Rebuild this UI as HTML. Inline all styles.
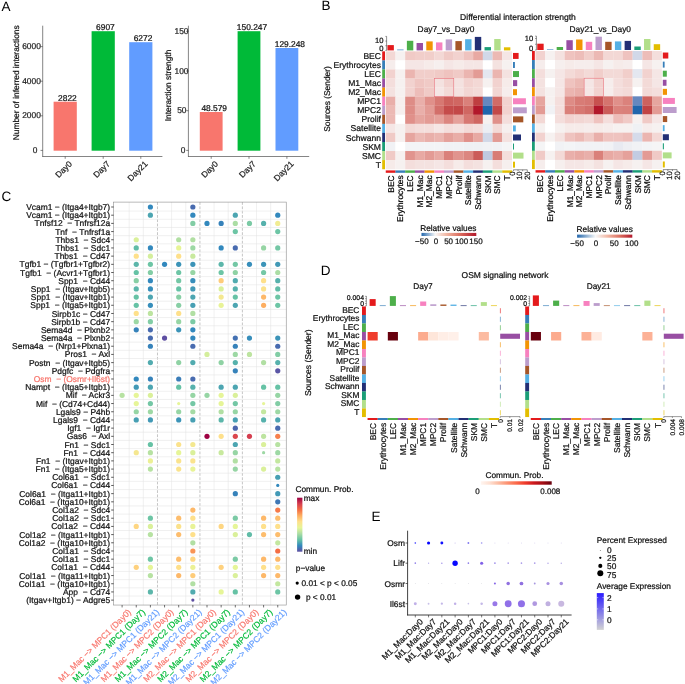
<!DOCTYPE html>
<html lang="en"><head><meta charset="utf-8"><title>Figure</title>
<style>html,body{margin:0;padding:0;background:#fff;}svg{display:block;}text{font-family:'Liberation Sans', Arial, Helvetica, sans-serif;white-space:pre;text-rendering:geometricPrecision;}</style>
</head><body>
<svg width="685" height="684" viewBox="0 0 685 684" xml:space="preserve">
<rect x="0" y="0" width="685" height="684" fill="#FFFFFF"/>
<text x="1.5" y="11.17" font-size="13.5" fill="#000">A</text>
<text x="321.5" y="10.17" font-size="13.5" fill="#000">B</text>
<text x="1.5" y="200.77" font-size="13.5" fill="#000">C</text>
<text x="320.8" y="275.17" font-size="13.5" fill="#000">D</text>
<text x="371.5" y="520.57" font-size="13.5" fill="#000">E</text>
<rect x="53.60" y="101.70" width="23.20" height="49.00" fill="#F8766D" />
<text x="67.40" y="100.51" font-size="8.4" text-anchor="middle" fill="#111" stroke="#111" stroke-width="0.22" >2822</text>
<rect x="91.60" y="31.20" width="23.20" height="119.50" fill="#00BA38" />
<text x="105.40" y="30.01" font-size="8.4" text-anchor="middle" fill="#111" stroke="#111" stroke-width="0.22" >6907</text>
<rect x="129.20" y="42.20" width="23.20" height="108.50" fill="#619CFF" />
<text x="143.00" y="41.01" font-size="8.4" text-anchor="middle" fill="#111" stroke="#111" stroke-width="0.22" >6272</text>
<line x1="42.70" y1="25.70" x2="42.70" y2="156.80" stroke="#333" stroke-width="0.6" />
<line x1="42.40" y1="156.50" x2="162.40" y2="156.50" stroke="#333" stroke-width="0.6" />
<line x1="40.50" y1="150.40" x2="42.70" y2="150.40" stroke="#333" stroke-width="0.6" />
<text x="35.10" y="153.01" font-size="8.4" text-anchor="middle" fill="#222" stroke="#222" stroke-width="0.22" >0</text>
<line x1="40.50" y1="115.80" x2="42.70" y2="115.80" stroke="#333" stroke-width="0.6" />
<text x="31.50" y="118.41" font-size="8.4" text-anchor="middle" fill="#222" stroke="#222" stroke-width="0.22" >2000</text>
<line x1="40.50" y1="81.20" x2="42.70" y2="81.20" stroke="#333" stroke-width="0.6" />
<text x="31.50" y="83.81" font-size="8.4" text-anchor="middle" fill="#222" stroke="#222" stroke-width="0.22" >4000</text>
<line x1="40.50" y1="46.60" x2="42.70" y2="46.60" stroke="#333" stroke-width="0.6" />
<text x="31.50" y="49.21" font-size="8.4" text-anchor="middle" fill="#222" stroke="#222" stroke-width="0.22" >6000</text>
<line x1="65.20" y1="156.50" x2="65.20" y2="158.80" stroke="#333" stroke-width="0.6" />
<text transform="translate(68.20,160.10) rotate(-45)" x="0" y="6.22" font-size="8.4" text-anchor="end" fill="#222" stroke="#222" stroke-width="0.22">Day0</text>
<line x1="103.20" y1="156.50" x2="103.20" y2="158.80" stroke="#333" stroke-width="0.6" />
<text transform="translate(106.20,160.10) rotate(-45)" x="0" y="6.22" font-size="8.4" text-anchor="end" fill="#222" stroke="#222" stroke-width="0.22">Day7</text>
<line x1="140.80" y1="156.50" x2="140.80" y2="158.80" stroke="#333" stroke-width="0.6" />
<text transform="translate(143.80,160.10) rotate(-45)" x="0" y="6.22" font-size="8.4" text-anchor="end" fill="#222" stroke="#222" stroke-width="0.22">Day21</text>
<text transform="translate(16.30,82.80) rotate(-90)" x="0" y="3.01" font-size="8.4" text-anchor="middle" fill="#111" stroke="#111" stroke-width="0.22" >Number of inferred interactions</text>
<rect x="199.80" y="112.00" width="22.80" height="38.70" fill="#F8766D" />
<text x="214.20" y="110.81" font-size="8.4" text-anchor="middle" fill="#111" stroke="#111" stroke-width="0.22" >48.579</text>
<rect x="237.60" y="31.20" width="22.80" height="119.50" fill="#00BA38" />
<text x="252.00" y="30.01" font-size="8.4" text-anchor="middle" fill="#111" stroke="#111" stroke-width="0.22" >150.247</text>
<rect x="275.50" y="48.00" width="22.80" height="102.70" fill="#619CFF" />
<text x="289.90" y="46.81" font-size="8.4" text-anchor="middle" fill="#111" stroke="#111" stroke-width="0.22" >129.248</text>
<line x1="188.40" y1="25.70" x2="188.40" y2="156.80" stroke="#333" stroke-width="0.6" />
<line x1="188.10" y1="156.50" x2="309.20" y2="156.50" stroke="#333" stroke-width="0.6" />
<line x1="186.20" y1="150.40" x2="188.40" y2="150.40" stroke="#333" stroke-width="0.6" />
<text x="183.00" y="153.01" font-size="8.4" text-anchor="middle" fill="#222" stroke="#222" stroke-width="0.22" >0</text>
<line x1="186.20" y1="110.70" x2="188.40" y2="110.70" stroke="#333" stroke-width="0.6" />
<text x="181.80" y="113.31" font-size="8.4" text-anchor="middle" fill="#222" stroke="#222" stroke-width="0.22" >50</text>
<line x1="186.20" y1="71.00" x2="188.40" y2="71.00" stroke="#333" stroke-width="0.6" />
<text x="181.50" y="73.61" font-size="8.4" text-anchor="middle" fill="#222" stroke="#222" stroke-width="0.22" >100</text>
<line x1="186.20" y1="31.30" x2="188.40" y2="31.30" stroke="#333" stroke-width="0.6" />
<text x="181.50" y="33.91" font-size="8.4" text-anchor="middle" fill="#222" stroke="#222" stroke-width="0.22" >150</text>
<line x1="211.20" y1="156.50" x2="211.20" y2="158.80" stroke="#333" stroke-width="0.6" />
<text transform="translate(214.20,160.10) rotate(-45)" x="0" y="6.22" font-size="8.4" text-anchor="end" fill="#222" stroke="#222" stroke-width="0.22">Day0</text>
<line x1="249.00" y1="156.50" x2="249.00" y2="158.80" stroke="#333" stroke-width="0.6" />
<text transform="translate(252.00,160.10) rotate(-45)" x="0" y="6.22" font-size="8.4" text-anchor="end" fill="#222" stroke="#222" stroke-width="0.22">Day7</text>
<line x1="286.90" y1="156.50" x2="286.90" y2="158.80" stroke="#333" stroke-width="0.6" />
<text transform="translate(289.90,160.10) rotate(-45)" x="0" y="6.22" font-size="8.4" text-anchor="end" fill="#222" stroke="#222" stroke-width="0.22">Day21</text>
<text transform="translate(167.80,85.50) rotate(-90)" x="0" y="3.01" font-size="8.4" text-anchor="middle" fill="#111" stroke="#111" stroke-width="0.22" >Interaction strength</text>
<rect x="385.75" y="51.35" width="9.81" height="9.16" fill="#F3D8D5" />
<rect x="395.46" y="51.35" width="9.81" height="9.16" fill="#F6F1F0" />
<rect x="405.17" y="51.35" width="9.81" height="9.16" fill="#F0CAC6" />
<rect x="414.87" y="51.35" width="9.81" height="9.16" fill="#F1CECA" />
<rect x="424.58" y="51.35" width="9.81" height="9.16" fill="#F1CECA" />
<rect x="434.29" y="51.35" width="9.81" height="9.16" fill="#F3D8D5" />
<rect x="444.00" y="51.35" width="9.81" height="9.16" fill="#F0CAC6" />
<rect x="453.70" y="51.35" width="9.81" height="9.16" fill="#F2D2CF" />
<rect x="463.41" y="51.35" width="9.81" height="9.16" fill="#EFC3BF" />
<rect x="473.12" y="51.35" width="9.81" height="9.16" fill="#E8A9A3" />
<rect x="482.83" y="51.35" width="9.81" height="9.16" fill="#D1D8E8" />
<rect x="492.53" y="51.35" width="9.81" height="9.16" fill="#ECB9B4" />
<rect x="502.24" y="51.35" width="9.81" height="9.16" fill="#F5E6E5" />
<rect x="385.75" y="60.41" width="9.81" height="9.16" fill="#F6EDEC" />
<rect x="395.46" y="60.41" width="9.81" height="9.16" fill="#FFFFFF" />
<rect x="405.17" y="60.41" width="9.81" height="9.16" fill="#F5E6E5" />
<rect x="414.87" y="60.41" width="9.81" height="9.16" fill="#F5E6E5" />
<rect x="424.58" y="60.41" width="9.81" height="9.16" fill="#F6EBE9" />
<rect x="434.29" y="60.41" width="9.81" height="9.16" fill="#F6EFEE" />
<rect x="444.00" y="60.41" width="9.81" height="9.16" fill="#F5E6E5" />
<rect x="453.70" y="60.41" width="9.81" height="9.16" fill="#F6EBE9" />
<rect x="463.41" y="60.41" width="9.81" height="9.16" fill="#F5E6E5" />
<rect x="473.12" y="60.41" width="9.81" height="9.16" fill="#F5E6E5" />
<rect x="482.83" y="60.41" width="9.81" height="9.16" fill="#FFFFFF" />
<rect x="492.53" y="60.41" width="9.81" height="9.16" fill="#F4E2E0" />
<rect x="502.24" y="60.41" width="9.81" height="9.16" fill="#F6F1F0" />
<rect x="385.75" y="69.47" width="9.81" height="9.16" fill="#F2D2CF" />
<rect x="395.46" y="69.47" width="9.81" height="9.16" fill="#F6F1F0" />
<rect x="405.17" y="69.47" width="9.81" height="9.16" fill="#EBB5B0" />
<rect x="414.87" y="69.47" width="9.81" height="9.16" fill="#F1CECA" />
<rect x="424.58" y="69.47" width="9.81" height="9.16" fill="#F1CECA" />
<rect x="434.29" y="69.47" width="9.81" height="9.16" fill="#F0CAC6" />
<rect x="444.00" y="69.47" width="9.81" height="9.16" fill="#EFC3BF" />
<rect x="453.70" y="69.47" width="9.81" height="9.16" fill="#F0CAC6" />
<rect x="463.41" y="69.47" width="9.81" height="9.16" fill="#EBB5B0" />
<rect x="473.12" y="69.47" width="9.81" height="9.16" fill="#E39B95" />
<rect x="482.83" y="69.47" width="9.81" height="9.16" fill="#E4E7F0" />
<rect x="492.53" y="69.47" width="9.81" height="9.16" fill="#EBB5B0" />
<rect x="502.24" y="69.47" width="9.81" height="9.16" fill="#F4E2E0" />
<rect x="385.75" y="78.53" width="9.81" height="9.16" fill="#F4DEDC" />
<rect x="395.46" y="78.53" width="9.81" height="9.16" fill="#F6F1F0" />
<rect x="405.17" y="78.53" width="9.81" height="9.16" fill="#F2D2CF" />
<rect x="414.87" y="78.53" width="9.81" height="9.16" fill="#EFC5C1" />
<rect x="424.58" y="78.53" width="9.81" height="9.16" fill="#F0CAC6" />
<rect x="434.29" y="78.53" width="9.81" height="9.16" fill="#F4E2E0" />
<rect x="444.00" y="78.53" width="9.81" height="9.16" fill="#F2D2CF" />
<rect x="453.70" y="78.53" width="9.81" height="9.16" fill="#F4E2E0" />
<rect x="463.41" y="78.53" width="9.81" height="9.16" fill="#F2D2CF" />
<rect x="473.12" y="78.53" width="9.81" height="9.16" fill="#F3D8D5" />
<rect x="482.83" y="78.53" width="9.81" height="9.16" fill="#F6F1F0" />
<rect x="492.53" y="78.53" width="9.81" height="9.16" fill="#F2D2CF" />
<rect x="502.24" y="78.53" width="9.81" height="9.16" fill="#F6EBE9" />
<rect x="385.75" y="87.60" width="9.81" height="9.16" fill="#F4E2E0" />
<rect x="395.46" y="87.60" width="9.81" height="9.16" fill="#F6F1F0" />
<rect x="405.17" y="87.60" width="9.81" height="9.16" fill="#F2D2CF" />
<rect x="414.87" y="87.60" width="9.81" height="9.16" fill="#EDBDB9" />
<rect x="424.58" y="87.60" width="9.81" height="9.16" fill="#F0CAC6" />
<rect x="434.29" y="87.60" width="9.81" height="9.16" fill="#F5E6E5" />
<rect x="444.00" y="87.60" width="9.81" height="9.16" fill="#F3DAD7" />
<rect x="453.70" y="87.60" width="9.81" height="9.16" fill="#F4E2E0" />
<rect x="463.41" y="87.60" width="9.81" height="9.16" fill="#F2D6D3" />
<rect x="473.12" y="87.60" width="9.81" height="9.16" fill="#F3DAD7" />
<rect x="482.83" y="87.60" width="9.81" height="9.16" fill="#FFFFFF" />
<rect x="492.53" y="87.60" width="9.81" height="9.16" fill="#F2D6D3" />
<rect x="502.24" y="87.60" width="9.81" height="9.16" fill="#F6EDEC" />
<rect x="385.75" y="96.66" width="9.81" height="9.16" fill="#E9AFAA" />
<rect x="395.46" y="96.66" width="9.81" height="9.16" fill="#F6EFEE" />
<rect x="405.17" y="96.66" width="9.81" height="9.16" fill="#DE8C86" />
<rect x="414.87" y="96.66" width="9.81" height="9.16" fill="#E9AFAA" />
<rect x="424.58" y="96.66" width="9.81" height="9.16" fill="#E0908A" />
<rect x="434.29" y="96.66" width="9.81" height="9.16" fill="#D77872" />
<rect x="444.00" y="96.66" width="9.81" height="9.16" fill="#CE625E" />
<rect x="453.70" y="96.66" width="9.81" height="9.16" fill="#D06762" />
<rect x="463.41" y="96.66" width="9.81" height="9.16" fill="#DA807A" />
<rect x="473.12" y="96.66" width="9.81" height="9.16" fill="#BF3E40" />
<rect x="482.83" y="96.66" width="9.81" height="9.16" fill="#6688BF" />
<rect x="492.53" y="96.66" width="9.81" height="9.16" fill="#D26B66" />
<rect x="502.24" y="96.66" width="9.81" height="9.16" fill="#F2D2CF" />
<rect x="385.75" y="105.72" width="9.81" height="9.16" fill="#ECB9B4" />
<rect x="395.46" y="105.72" width="9.81" height="9.16" fill="#F6EFEE" />
<rect x="405.17" y="105.72" width="9.81" height="9.16" fill="#DE8C86" />
<rect x="414.87" y="105.72" width="9.81" height="9.16" fill="#E9AFAA" />
<rect x="424.58" y="105.72" width="9.81" height="9.16" fill="#E39B95" />
<rect x="434.29" y="105.72" width="9.81" height="9.16" fill="#D36F6A" />
<rect x="444.00" y="105.72" width="9.81" height="9.16" fill="#C54C4B" />
<rect x="453.70" y="105.72" width="9.81" height="9.16" fill="#C34848" />
<rect x="463.41" y="105.72" width="9.81" height="9.16" fill="#D06762" />
<rect x="473.12" y="105.72" width="9.81" height="9.16" fill="#B2182B" />
<rect x="482.83" y="105.72" width="9.81" height="9.16" fill="#2166AC" />
<rect x="492.53" y="105.72" width="9.81" height="9.16" fill="#C34848" />
<rect x="502.24" y="105.72" width="9.81" height="9.16" fill="#F2D2CF" />
<rect x="385.75" y="114.78" width="9.81" height="9.16" fill="#ECB9B4" />
<rect x="395.46" y="114.78" width="9.81" height="9.16" fill="#FFFFFF" />
<rect x="405.17" y="114.78" width="9.81" height="9.16" fill="#E0908A" />
<rect x="414.87" y="114.78" width="9.81" height="9.16" fill="#E6A59F" />
<rect x="424.58" y="114.78" width="9.81" height="9.16" fill="#E39B95" />
<rect x="434.29" y="114.78" width="9.81" height="9.16" fill="#E5A19B" />
<rect x="444.00" y="114.78" width="9.81" height="9.16" fill="#DC8680" />
<rect x="453.70" y="114.78" width="9.81" height="9.16" fill="#E5A19B" />
<rect x="463.41" y="114.78" width="9.81" height="9.16" fill="#D77872" />
<rect x="473.12" y="114.78" width="9.81" height="9.16" fill="#D06762" />
<rect x="482.83" y="114.78" width="9.81" height="9.16" fill="#F6F1F0" />
<rect x="492.53" y="114.78" width="9.81" height="9.16" fill="#E0908A" />
<rect x="502.24" y="114.78" width="9.81" height="9.16" fill="#F4DEDC" />
<rect x="385.75" y="123.84" width="9.81" height="9.16" fill="#F5E6E5" />
<rect x="395.46" y="123.84" width="9.81" height="9.16" fill="#F6F1F0" />
<rect x="405.17" y="123.84" width="9.81" height="9.16" fill="#F3DAD7" />
<rect x="414.87" y="123.84" width="9.81" height="9.16" fill="#F4DEDC" />
<rect x="424.58" y="123.84" width="9.81" height="9.16" fill="#F4DEDC" />
<rect x="434.29" y="123.84" width="9.81" height="9.16" fill="#F5E6E5" />
<rect x="444.00" y="123.84" width="9.81" height="9.16" fill="#F4DEDC" />
<rect x="453.70" y="123.84" width="9.81" height="9.16" fill="#F4E2E0" />
<rect x="463.41" y="123.84" width="9.81" height="9.16" fill="#F3DAD7" />
<rect x="473.12" y="123.84" width="9.81" height="9.16" fill="#F4DEDC" />
<rect x="482.83" y="123.84" width="9.81" height="9.16" fill="#ECEEF3" />
<rect x="492.53" y="123.84" width="9.81" height="9.16" fill="#F3DAD7" />
<rect x="502.24" y="123.84" width="9.81" height="9.16" fill="#F6EFEE" />
<rect x="385.75" y="132.90" width="9.81" height="9.16" fill="#F0CAC6" />
<rect x="395.46" y="132.90" width="9.81" height="9.16" fill="#F6F1F0" />
<rect x="405.17" y="132.90" width="9.81" height="9.16" fill="#E6A59F" />
<rect x="414.87" y="132.90" width="9.81" height="9.16" fill="#ECB9B4" />
<rect x="424.58" y="132.90" width="9.81" height="9.16" fill="#E9AFAA" />
<rect x="434.29" y="132.90" width="9.81" height="9.16" fill="#EBB5B0" />
<rect x="444.00" y="132.90" width="9.81" height="9.16" fill="#E5A19B" />
<rect x="453.70" y="132.90" width="9.81" height="9.16" fill="#E9ADA7" />
<rect x="463.41" y="132.90" width="9.81" height="9.16" fill="#E0908A" />
<rect x="473.12" y="132.90" width="9.81" height="9.16" fill="#E8A9A3" />
<rect x="482.83" y="132.90" width="9.81" height="9.16" fill="#D1D8E8" />
<rect x="492.53" y="132.90" width="9.81" height="9.16" fill="#E39B95" />
<rect x="502.24" y="132.90" width="9.81" height="9.16" fill="#F4E2E0" />
<rect x="385.75" y="141.97" width="9.81" height="9.16" fill="#F1F2F5" />
<rect x="395.46" y="141.97" width="9.81" height="9.16" fill="#FFFFFF" />
<rect x="405.17" y="141.97" width="9.81" height="9.16" fill="#F3F4F6" />
<rect x="414.87" y="141.97" width="9.81" height="9.16" fill="#F3F4F6" />
<rect x="424.58" y="141.97" width="9.81" height="9.16" fill="#F3F4F6" />
<rect x="434.29" y="141.97" width="9.81" height="9.16" fill="#F3F4F6" />
<rect x="444.00" y="141.97" width="9.81" height="9.16" fill="#F1F2F5" />
<rect x="453.70" y="141.97" width="9.81" height="9.16" fill="#F1F2F5" />
<rect x="463.41" y="141.97" width="9.81" height="9.16" fill="#EFF1F4" />
<rect x="473.12" y="141.97" width="9.81" height="9.16" fill="#EFF1F4" />
<rect x="482.83" y="141.97" width="9.81" height="9.16" fill="#F1F2F5" />
<rect x="492.53" y="141.97" width="9.81" height="9.16" fill="#F1F2F5" />
<rect x="502.24" y="141.97" width="9.81" height="9.16" fill="#F5F5F6" />
<rect x="385.75" y="151.03" width="9.81" height="9.16" fill="#F0CAC6" />
<rect x="395.46" y="151.03" width="9.81" height="9.16" fill="#F6F1F0" />
<rect x="405.17" y="151.03" width="9.81" height="9.16" fill="#E1948E" />
<rect x="414.87" y="151.03" width="9.81" height="9.16" fill="#E8A9A3" />
<rect x="424.58" y="151.03" width="9.81" height="9.16" fill="#E39B95" />
<rect x="434.29" y="151.03" width="9.81" height="9.16" fill="#E8A9A3" />
<rect x="444.00" y="151.03" width="9.81" height="9.16" fill="#DA807A" />
<rect x="453.70" y="151.03" width="9.81" height="9.16" fill="#E1948E" />
<rect x="463.41" y="151.03" width="9.81" height="9.16" fill="#DC8680" />
<rect x="473.12" y="151.03" width="9.81" height="9.16" fill="#CB5C59" />
<rect x="482.83" y="151.03" width="9.81" height="9.16" fill="#BFC9E1" />
<rect x="492.53" y="151.03" width="9.81" height="9.16" fill="#D87C76" />
<rect x="502.24" y="151.03" width="9.81" height="9.16" fill="#F4DEDC" />
<rect x="385.75" y="160.09" width="9.81" height="9.16" fill="#F6EBE9" />
<rect x="395.46" y="160.09" width="9.81" height="9.16" fill="#F6F1F0" />
<rect x="405.17" y="160.09" width="9.81" height="9.16" fill="#F4DEDC" />
<rect x="414.87" y="160.09" width="9.81" height="9.16" fill="#F4E2E0" />
<rect x="424.58" y="160.09" width="9.81" height="9.16" fill="#F4E2E0" />
<rect x="434.29" y="160.09" width="9.81" height="9.16" fill="#F5E6E5" />
<rect x="444.00" y="160.09" width="9.81" height="9.16" fill="#F4DEDC" />
<rect x="453.70" y="160.09" width="9.81" height="9.16" fill="#F6EBE9" />
<rect x="463.41" y="160.09" width="9.81" height="9.16" fill="#F4DEDC" />
<rect x="473.12" y="160.09" width="9.81" height="9.16" fill="#F4E2E0" />
<rect x="482.83" y="160.09" width="9.81" height="9.16" fill="#F6F1F0" />
<rect x="492.53" y="160.09" width="9.81" height="9.16" fill="#F4DEDC" />
<rect x="502.24" y="160.09" width="9.81" height="9.16" fill="#F6EFEE" />
<rect x="434.34" y="78.58" width="19.42" height="18.12" fill="none" stroke="#E8707A" stroke-width="0.6"/>
<rect x="382.20" y="51.35" width="2.80" height="9.16" fill="#E41A1C" />
<rect x="385.75" y="170.40" width="9.81" height="2.40" fill="#E41A1C" />
<rect x="382.20" y="60.41" width="2.80" height="9.16" fill="#377EB8" />
<rect x="395.46" y="170.40" width="9.81" height="2.40" fill="#377EB8" />
<rect x="382.20" y="69.47" width="2.80" height="9.16" fill="#4DAF4A" />
<rect x="405.17" y="170.40" width="9.81" height="2.40" fill="#4DAF4A" />
<rect x="382.20" y="78.53" width="2.80" height="9.16" fill="#984EA3" />
<rect x="414.87" y="170.40" width="9.81" height="2.40" fill="#984EA3" />
<rect x="382.20" y="87.60" width="2.80" height="9.16" fill="#F29403" />
<rect x="424.58" y="170.40" width="9.81" height="2.40" fill="#F29403" />
<rect x="382.20" y="96.66" width="2.80" height="9.16" fill="#F781BF" />
<rect x="434.29" y="170.40" width="9.81" height="2.40" fill="#F781BF" />
<rect x="382.20" y="105.72" width="2.80" height="9.16" fill="#BC9DCC" />
<rect x="444.00" y="170.40" width="9.81" height="2.40" fill="#BC9DCC" />
<rect x="382.20" y="114.78" width="2.80" height="9.16" fill="#A65628" />
<rect x="453.70" y="170.40" width="9.81" height="2.40" fill="#A65628" />
<rect x="382.20" y="123.84" width="2.80" height="9.16" fill="#54B0E4" />
<rect x="463.41" y="170.40" width="9.81" height="2.40" fill="#54B0E4" />
<rect x="382.20" y="132.90" width="2.80" height="9.16" fill="#222F75" />
<rect x="473.12" y="170.40" width="9.81" height="2.40" fill="#222F75" />
<rect x="382.20" y="141.97" width="2.80" height="9.16" fill="#1B9E77" />
<rect x="482.83" y="170.40" width="9.81" height="2.40" fill="#1B9E77" />
<rect x="382.20" y="151.03" width="2.80" height="9.16" fill="#B2DF8A" />
<rect x="492.53" y="170.40" width="9.81" height="2.40" fill="#B2DF8A" />
<rect x="382.20" y="160.09" width="2.80" height="9.16" fill="#E3BE00" />
<rect x="502.24" y="170.40" width="9.81" height="2.40" fill="#E3BE00" />
<rect x="387.45" y="45.10" width="6.41" height="5.30" fill="#E41A1C" />
<rect x="397.16" y="49.20" width="6.41" height="1.20" fill="#8FB8DC" />
<rect x="406.87" y="40.80" width="6.41" height="9.60" fill="#4DAF4A" />
<rect x="416.57" y="43.00" width="6.41" height="7.40" fill="#984EA3" />
<rect x="426.28" y="41.40" width="6.41" height="9.00" fill="#F29403" />
<rect x="435.99" y="42.40" width="6.41" height="8.00" fill="#F781BF" />
<rect x="445.70" y="39.40" width="6.41" height="11.00" fill="#BC9DCC" />
<rect x="455.40" y="41.10" width="6.41" height="9.30" fill="#A65628" />
<rect x="465.11" y="39.20" width="6.41" height="11.20" fill="#54B0E4" />
<rect x="474.82" y="36.90" width="6.41" height="13.50" fill="#222F75" />
<rect x="484.53" y="47.10" width="6.41" height="3.30" fill="#1B9E77" />
<rect x="494.23" y="39.00" width="6.41" height="11.40" fill="#B2DF8A" />
<rect x="503.94" y="47.30" width="6.41" height="3.10" fill="#E3BE00" />
<rect x="513.00" y="52.94" width="5.60" height="5.98" fill="#E41A1C" />
<rect x="513.00" y="62.00" width="1.90" height="5.98" fill="#377EB8" />
<rect x="513.00" y="71.06" width="6.00" height="5.98" fill="#4DAF4A" />
<rect x="513.00" y="80.13" width="4.20" height="5.98" fill="#984EA3" />
<rect x="513.00" y="89.19" width="4.00" height="5.98" fill="#F29403" />
<rect x="513.00" y="98.25" width="12.90" height="5.98" fill="#F781BF" />
<rect x="513.00" y="107.31" width="13.80" height="5.98" fill="#BC9DCC" />
<rect x="513.00" y="116.37" width="10.30" height="5.98" fill="#A65628" />
<rect x="513.00" y="125.43" width="2.80" height="5.98" fill="#54B0E4" />
<rect x="513.00" y="134.49" width="8.00" height="5.98" fill="#222F75" />
<rect x="513.00" y="143.56" width="1.00" height="5.98" fill="#1B9E77" />
<rect x="513.00" y="152.62" width="10.50" height="5.98" fill="#B2DF8A" />
<rect x="513.00" y="161.68" width="2.00" height="5.98" fill="#E3BE00" />
<line x1="386.60" y1="50.40" x2="386.60" y2="36.40" stroke="#222" stroke-width="0.5" />
<line x1="385.40" y1="50.40" x2="386.60" y2="50.40" stroke="#222" stroke-width="0.5" />
<text x="383.40" y="51.32" font-size="7.6" text-anchor="end" fill="#111" stroke="#111" stroke-width="0.22" >0</text>
<line x1="385.40" y1="45.73" x2="386.60" y2="45.73" stroke="#222" stroke-width="0.5" />
<line x1="385.40" y1="41.07" x2="386.60" y2="41.07" stroke="#222" stroke-width="0.5" />
<text x="383.40" y="42.82" font-size="7.6" text-anchor="end" fill="#111" stroke="#111" stroke-width="0.22" >10</text>
<line x1="385.40" y1="36.40" x2="386.60" y2="36.40" stroke="#222" stroke-width="0.5" />
<line x1="513.40" y1="169.80" x2="527.30" y2="169.80" stroke="#222" stroke-width="0.5" />
<line x1="513.40" y1="169.80" x2="513.40" y2="171.20" stroke="#222" stroke-width="0.5" />
<line x1="518.03" y1="169.80" x2="518.03" y2="171.20" stroke="#222" stroke-width="0.5" />
<line x1="522.66" y1="169.80" x2="522.66" y2="171.20" stroke="#222" stroke-width="0.5" />
<line x1="527.29" y1="169.80" x2="527.29" y2="171.20" stroke="#222" stroke-width="0.5" />
<text transform="translate(512.60,171.40) rotate(-90)" x="0" y="2.72" font-size="7.6" text-anchor="end" fill="#111" stroke="#111" stroke-width="0.22" >0</text>
<text transform="translate(519.70,171.40) rotate(-90)" x="0" y="2.72" font-size="7.6" text-anchor="end" fill="#111" stroke="#111" stroke-width="0.22" >10</text>
<text transform="translate(527.40,171.40) rotate(-90)" x="0" y="2.72" font-size="7.6" text-anchor="end" fill="#111" stroke="#111" stroke-width="0.22" >20</text>
<text x="381.00" y="58.99" font-size="8.55" text-anchor="end" fill="#111" stroke="#111" stroke-width="0.22" >BEC</text>
<text x="381.00" y="68.05" font-size="8.55" text-anchor="end" fill="#111" stroke="#111" stroke-width="0.22" >Erythrocytes</text>
<text x="381.00" y="77.11" font-size="8.55" text-anchor="end" fill="#111" stroke="#111" stroke-width="0.22" >LEC</text>
<text x="381.00" y="86.18" font-size="8.55" text-anchor="end" fill="#111" stroke="#111" stroke-width="0.22" >M1_Mac</text>
<text x="381.00" y="95.24" font-size="8.55" text-anchor="end" fill="#111" stroke="#111" stroke-width="0.22" >M2_Mac</text>
<text x="381.00" y="104.30" font-size="8.55" text-anchor="end" fill="#111" stroke="#111" stroke-width="0.22" >MPC1</text>
<text x="381.00" y="113.36" font-size="8.55" text-anchor="end" fill="#111" stroke="#111" stroke-width="0.22" >MPC2</text>
<text x="381.00" y="122.42" font-size="8.55" text-anchor="end" fill="#111" stroke="#111" stroke-width="0.22" >Prolif</text>
<text x="381.00" y="131.48" font-size="8.55" text-anchor="end" fill="#111" stroke="#111" stroke-width="0.22" >Satellite</text>
<text x="381.00" y="140.55" font-size="8.55" text-anchor="end" fill="#111" stroke="#111" stroke-width="0.22" >Schwann</text>
<text x="381.00" y="149.61" font-size="8.55" text-anchor="end" fill="#111" stroke="#111" stroke-width="0.22" >SKM</text>
<text x="381.00" y="158.67" font-size="8.55" text-anchor="end" fill="#111" stroke="#111" stroke-width="0.22" >SMC</text>
<text x="381.00" y="167.73" font-size="8.55" text-anchor="end" fill="#111" stroke="#111" stroke-width="0.22" >T</text>
<text transform="translate(390.65,175.40) rotate(-90)" x="0" y="3.01" font-size="8.4" text-anchor="end" fill="#000" stroke="#000" stroke-width="0.22" >BEC</text>
<text transform="translate(400.36,175.40) rotate(-90)" x="0" y="3.01" font-size="8.4" text-anchor="end" fill="#000" stroke="#000" stroke-width="0.22" >Erythrocytes</text>
<text transform="translate(410.07,175.40) rotate(-90)" x="0" y="3.01" font-size="8.4" text-anchor="end" fill="#000" stroke="#000" stroke-width="0.22" >LEC</text>
<text transform="translate(419.78,175.40) rotate(-90)" x="0" y="3.01" font-size="8.4" text-anchor="end" fill="#000" stroke="#000" stroke-width="0.22" >M1_Mac</text>
<text transform="translate(429.48,175.40) rotate(-90)" x="0" y="3.01" font-size="8.4" text-anchor="end" fill="#000" stroke="#000" stroke-width="0.22" >M2_Mac</text>
<text transform="translate(439.19,175.40) rotate(-90)" x="0" y="3.01" font-size="8.4" text-anchor="end" fill="#000" stroke="#000" stroke-width="0.22" >MPC1</text>
<text transform="translate(448.90,175.40) rotate(-90)" x="0" y="3.01" font-size="8.4" text-anchor="end" fill="#000" stroke="#000" stroke-width="0.22" >MPC2</text>
<text transform="translate(458.61,175.40) rotate(-90)" x="0" y="3.01" font-size="8.4" text-anchor="end" fill="#000" stroke="#000" stroke-width="0.22" >Prolif</text>
<text transform="translate(468.32,175.40) rotate(-90)" x="0" y="3.01" font-size="8.4" text-anchor="end" fill="#000" stroke="#000" stroke-width="0.22" >Satellite</text>
<text transform="translate(478.02,175.40) rotate(-90)" x="0" y="3.01" font-size="8.4" text-anchor="end" fill="#000" stroke="#000" stroke-width="0.22" >Schwann</text>
<text transform="translate(487.73,175.40) rotate(-90)" x="0" y="3.01" font-size="8.4" text-anchor="end" fill="#000" stroke="#000" stroke-width="0.22" >SKM</text>
<text transform="translate(497.44,175.40) rotate(-90)" x="0" y="3.01" font-size="8.4" text-anchor="end" fill="#000" stroke="#000" stroke-width="0.22" >SMC</text>
<text transform="translate(507.15,175.40) rotate(-90)" x="0" y="3.01" font-size="8.4" text-anchor="end" fill="#000" stroke="#000" stroke-width="0.22" >T</text>
<text x="446.00" y="32.01" font-size="8.4" text-anchor="middle" fill="#111" stroke="#111" stroke-width="0.22" >Day7_vs_Day0</text>
<rect x="535.55" y="50.95" width="9.81" height="9.18" fill="#F2D2CF" />
<rect x="545.26" y="50.95" width="9.81" height="9.18" fill="#F6F1F0" />
<rect x="554.97" y="50.95" width="9.81" height="9.18" fill="#F4E2E0" />
<rect x="564.67" y="50.95" width="9.81" height="9.18" fill="#EFC3BF" />
<rect x="574.38" y="50.95" width="9.81" height="9.18" fill="#EDBDB9" />
<rect x="584.09" y="50.95" width="9.81" height="9.18" fill="#F1CECA" />
<rect x="593.80" y="50.95" width="9.81" height="9.18" fill="#ECB9B4" />
<rect x="603.50" y="50.95" width="9.81" height="9.18" fill="#F3D8D5" />
<rect x="613.21" y="50.95" width="9.81" height="9.18" fill="#F3D8D5" />
<rect x="622.92" y="50.95" width="9.81" height="9.18" fill="#EFC3BF" />
<rect x="632.63" y="50.95" width="9.81" height="9.18" fill="#D1D8E8" />
<rect x="642.33" y="50.95" width="9.81" height="9.18" fill="#EDBDB9" />
<rect x="652.04" y="50.95" width="9.81" height="9.18" fill="#F4DEDC" />
<rect x="535.55" y="60.03" width="9.81" height="9.18" fill="#F6EDEC" />
<rect x="545.26" y="60.03" width="9.81" height="9.18" fill="#FFFFFF" />
<rect x="554.97" y="60.03" width="9.81" height="9.18" fill="#F6EFEE" />
<rect x="564.67" y="60.03" width="9.81" height="9.18" fill="#F6EBE9" />
<rect x="574.38" y="60.03" width="9.81" height="9.18" fill="#F6EDEC" />
<rect x="584.09" y="60.03" width="9.81" height="9.18" fill="#F6EDEC" />
<rect x="593.80" y="60.03" width="9.81" height="9.18" fill="#F5E6E5" />
<rect x="603.50" y="60.03" width="9.81" height="9.18" fill="#F6F1F0" />
<rect x="613.21" y="60.03" width="9.81" height="9.18" fill="#F6EBE9" />
<rect x="622.92" y="60.03" width="9.81" height="9.18" fill="#F6EDEC" />
<rect x="632.63" y="60.03" width="9.81" height="9.18" fill="#FFFFFF" />
<rect x="642.33" y="60.03" width="9.81" height="9.18" fill="#F5E6E5" />
<rect x="652.04" y="60.03" width="9.81" height="9.18" fill="#F6F1F0" />
<rect x="535.55" y="69.10" width="9.81" height="9.18" fill="#F4DEDC" />
<rect x="545.26" y="69.10" width="9.81" height="9.18" fill="#F6F1F0" />
<rect x="554.97" y="69.10" width="9.81" height="9.18" fill="#F5E6E5" />
<rect x="564.67" y="69.10" width="9.81" height="9.18" fill="#F3DAD7" />
<rect x="574.38" y="69.10" width="9.81" height="9.18" fill="#F2D2CF" />
<rect x="584.09" y="69.10" width="9.81" height="9.18" fill="#F3DAD7" />
<rect x="593.80" y="69.10" width="9.81" height="9.18" fill="#F1CECA" />
<rect x="603.50" y="69.10" width="9.81" height="9.18" fill="#F3DAD7" />
<rect x="613.21" y="69.10" width="9.81" height="9.18" fill="#F3DAD7" />
<rect x="622.92" y="69.10" width="9.81" height="9.18" fill="#F1CECA" />
<rect x="632.63" y="69.10" width="9.81" height="9.18" fill="#E4E7F0" />
<rect x="642.33" y="69.10" width="9.81" height="9.18" fill="#F2D2CF" />
<rect x="652.04" y="69.10" width="9.81" height="9.18" fill="#F5E6E5" />
<rect x="535.55" y="78.18" width="9.81" height="9.18" fill="#F4E2E0" />
<rect x="545.26" y="78.18" width="9.81" height="9.18" fill="#FFFFFF" />
<rect x="554.97" y="78.18" width="9.81" height="9.18" fill="#F5E6E5" />
<rect x="564.67" y="78.18" width="9.81" height="9.18" fill="#EFC3BF" />
<rect x="574.38" y="78.18" width="9.81" height="9.18" fill="#ECB9B4" />
<rect x="584.09" y="78.18" width="9.81" height="9.18" fill="#F5E6E5" />
<rect x="593.80" y="78.18" width="9.81" height="9.18" fill="#F2D2CF" />
<rect x="603.50" y="78.18" width="9.81" height="9.18" fill="#F6EDEC" />
<rect x="613.21" y="78.18" width="9.81" height="9.18" fill="#F4DEDC" />
<rect x="622.92" y="78.18" width="9.81" height="9.18" fill="#F2D6D3" />
<rect x="632.63" y="78.18" width="9.81" height="9.18" fill="#F6F1F0" />
<rect x="642.33" y="78.18" width="9.81" height="9.18" fill="#F3DAD7" />
<rect x="652.04" y="78.18" width="9.81" height="9.18" fill="#F5E6E5" />
<rect x="535.55" y="87.26" width="9.81" height="9.18" fill="#F4E2E0" />
<rect x="545.26" y="87.26" width="9.81" height="9.18" fill="#F6F1F0" />
<rect x="554.97" y="87.26" width="9.81" height="9.18" fill="#F5E6E5" />
<rect x="564.67" y="87.26" width="9.81" height="9.18" fill="#EBB5B0" />
<rect x="574.38" y="87.26" width="9.81" height="9.18" fill="#E9AFAA" />
<rect x="584.09" y="87.26" width="9.81" height="9.18" fill="#F5E6E5" />
<rect x="593.80" y="87.26" width="9.81" height="9.18" fill="#F2D2CF" />
<rect x="603.50" y="87.26" width="9.81" height="9.18" fill="#F6EDEC" />
<rect x="613.21" y="87.26" width="9.81" height="9.18" fill="#F4DEDC" />
<rect x="622.92" y="87.26" width="9.81" height="9.18" fill="#F3DAD7" />
<rect x="632.63" y="87.26" width="9.81" height="9.18" fill="#FFFFFF" />
<rect x="642.33" y="87.26" width="9.81" height="9.18" fill="#F3DAD7" />
<rect x="652.04" y="87.26" width="9.81" height="9.18" fill="#F4DEDC" />
<rect x="535.55" y="96.33" width="9.81" height="9.18" fill="#E6A59F" />
<rect x="545.26" y="96.33" width="9.81" height="9.18" fill="#F6F1F0" />
<rect x="554.97" y="96.33" width="9.81" height="9.18" fill="#F4DEDC" />
<rect x="564.67" y="96.33" width="9.81" height="9.18" fill="#DE8C86" />
<rect x="574.38" y="96.33" width="9.81" height="9.18" fill="#D87C76" />
<rect x="584.09" y="96.33" width="9.81" height="9.18" fill="#D77872" />
<rect x="593.80" y="96.33" width="9.81" height="9.18" fill="#C7514F" />
<rect x="603.50" y="96.33" width="9.81" height="9.18" fill="#D5736E" />
<rect x="613.21" y="96.33" width="9.81" height="9.18" fill="#E0908A" />
<rect x="622.92" y="96.33" width="9.81" height="9.18" fill="#DB827C" />
<rect x="632.63" y="96.33" width="9.81" height="9.18" fill="#6688BF" />
<rect x="642.33" y="96.33" width="9.81" height="9.18" fill="#CE625E" />
<rect x="652.04" y="96.33" width="9.81" height="9.18" fill="#E6A59F" />
<rect x="535.55" y="105.41" width="9.81" height="9.18" fill="#E39B95" />
<rect x="545.26" y="105.41" width="9.81" height="9.18" fill="#F1F2F5" />
<rect x="554.97" y="105.41" width="9.81" height="9.18" fill="#F4DEDC" />
<rect x="564.67" y="105.41" width="9.81" height="9.18" fill="#DA807A" />
<rect x="574.38" y="105.41" width="9.81" height="9.18" fill="#D77872" />
<rect x="584.09" y="105.41" width="9.81" height="9.18" fill="#D36F6A" />
<rect x="593.80" y="105.41" width="9.81" height="9.18" fill="#B2182B" />
<rect x="603.50" y="105.41" width="9.81" height="9.18" fill="#CB5C59" />
<rect x="613.21" y="105.41" width="9.81" height="9.18" fill="#DB827C" />
<rect x="622.92" y="105.41" width="9.81" height="9.18" fill="#DA807A" />
<rect x="632.63" y="105.41" width="9.81" height="9.18" fill="#2166AC" />
<rect x="642.33" y="105.41" width="9.81" height="9.18" fill="#C14344" />
<rect x="652.04" y="105.41" width="9.81" height="9.18" fill="#E39B95" />
<rect x="535.55" y="114.49" width="9.81" height="9.18" fill="#F3D8D5" />
<rect x="545.26" y="114.49" width="9.81" height="9.18" fill="#FFFFFF" />
<rect x="554.97" y="114.49" width="9.81" height="9.18" fill="#F4DEDC" />
<rect x="564.67" y="114.49" width="9.81" height="9.18" fill="#F2D2CF" />
<rect x="574.38" y="114.49" width="9.81" height="9.18" fill="#F2D6D3" />
<rect x="584.09" y="114.49" width="9.81" height="9.18" fill="#F3DAD7" />
<rect x="593.80" y="114.49" width="9.81" height="9.18" fill="#EFC3BF" />
<rect x="603.50" y="114.49" width="9.81" height="9.18" fill="#F4DEDC" />
<rect x="613.21" y="114.49" width="9.81" height="9.18" fill="#EDBDB9" />
<rect x="622.92" y="114.49" width="9.81" height="9.18" fill="#F0CAC6" />
<rect x="632.63" y="114.49" width="9.81" height="9.18" fill="#F6F1F0" />
<rect x="642.33" y="114.49" width="9.81" height="9.18" fill="#F0CAC6" />
<rect x="652.04" y="114.49" width="9.81" height="9.18" fill="#F5E6E5" />
<rect x="535.55" y="123.57" width="9.81" height="9.18" fill="#F6F1F0" />
<rect x="545.26" y="123.57" width="9.81" height="9.18" fill="#FFFFFF" />
<rect x="554.97" y="123.57" width="9.81" height="9.18" fill="#F6F1F0" />
<rect x="564.67" y="123.57" width="9.81" height="9.18" fill="#F6EBE9" />
<rect x="574.38" y="123.57" width="9.81" height="9.18" fill="#F6EBE9" />
<rect x="584.09" y="123.57" width="9.81" height="9.18" fill="#F6EDEC" />
<rect x="593.80" y="123.57" width="9.81" height="9.18" fill="#F6EBE9" />
<rect x="603.50" y="123.57" width="9.81" height="9.18" fill="#F6EDEC" />
<rect x="613.21" y="123.57" width="9.81" height="9.18" fill="#F6F1F0" />
<rect x="622.92" y="123.57" width="9.81" height="9.18" fill="#F6F1F0" />
<rect x="632.63" y="123.57" width="9.81" height="9.18" fill="#EFF1F4" />
<rect x="642.33" y="123.57" width="9.81" height="9.18" fill="#F6EDEC" />
<rect x="652.04" y="123.57" width="9.81" height="9.18" fill="#F6F1F0" />
<rect x="535.55" y="132.64" width="9.81" height="9.18" fill="#F2D2CF" />
<rect x="545.26" y="132.64" width="9.81" height="9.18" fill="#F6F1F0" />
<rect x="554.97" y="132.64" width="9.81" height="9.18" fill="#F4E2E0" />
<rect x="564.67" y="132.64" width="9.81" height="9.18" fill="#EFC3BF" />
<rect x="574.38" y="132.64" width="9.81" height="9.18" fill="#ECB9B4" />
<rect x="584.09" y="132.64" width="9.81" height="9.18" fill="#F0CAC6" />
<rect x="593.80" y="132.64" width="9.81" height="9.18" fill="#E9AFAA" />
<rect x="603.50" y="132.64" width="9.81" height="9.18" fill="#EFC3BF" />
<rect x="613.21" y="132.64" width="9.81" height="9.18" fill="#EFC3BF" />
<rect x="622.92" y="132.64" width="9.81" height="9.18" fill="#EDBDB9" />
<rect x="632.63" y="132.64" width="9.81" height="9.18" fill="#D5DBEA" />
<rect x="642.33" y="132.64" width="9.81" height="9.18" fill="#EBB5B0" />
<rect x="652.04" y="132.64" width="9.81" height="9.18" fill="#F3D8D5" />
<rect x="535.55" y="141.72" width="9.81" height="9.18" fill="#F5F5F6" />
<rect x="545.26" y="141.72" width="9.81" height="9.18" fill="#FFFFFF" />
<rect x="554.97" y="141.72" width="9.81" height="9.18" fill="#F1F2F5" />
<rect x="564.67" y="141.72" width="9.81" height="9.18" fill="#F3F4F6" />
<rect x="574.38" y="141.72" width="9.81" height="9.18" fill="#F1F2F5" />
<rect x="584.09" y="141.72" width="9.81" height="9.18" fill="#F1F2F5" />
<rect x="593.80" y="141.72" width="9.81" height="9.18" fill="#F1F2F5" />
<rect x="603.50" y="141.72" width="9.81" height="9.18" fill="#F1F2F5" />
<rect x="613.21" y="141.72" width="9.81" height="9.18" fill="#E8EAF1" />
<rect x="622.92" y="141.72" width="9.81" height="9.18" fill="#EEEFF3" />
<rect x="632.63" y="141.72" width="9.81" height="9.18" fill="#F1F2F5" />
<rect x="642.33" y="141.72" width="9.81" height="9.18" fill="#F3F4F6" />
<rect x="652.04" y="141.72" width="9.81" height="9.18" fill="#F5F5F6" />
<rect x="535.55" y="150.80" width="9.81" height="9.18" fill="#F0CAC6" />
<rect x="545.26" y="150.80" width="9.81" height="9.18" fill="#F6F1F0" />
<rect x="554.97" y="150.80" width="9.81" height="9.18" fill="#F3DAD7" />
<rect x="564.67" y="150.80" width="9.81" height="9.18" fill="#E9AFAA" />
<rect x="574.38" y="150.80" width="9.81" height="9.18" fill="#E8A9A3" />
<rect x="584.09" y="150.80" width="9.81" height="9.18" fill="#E9AFAA" />
<rect x="593.80" y="150.80" width="9.81" height="9.18" fill="#DA807A" />
<rect x="603.50" y="150.80" width="9.81" height="9.18" fill="#E8A9A3" />
<rect x="613.21" y="150.80" width="9.81" height="9.18" fill="#E9AFAA" />
<rect x="622.92" y="150.80" width="9.81" height="9.18" fill="#E5A19B" />
<rect x="632.63" y="150.80" width="9.81" height="9.18" fill="#C2CCE2" />
<rect x="642.33" y="150.80" width="9.81" height="9.18" fill="#E39B95" />
<rect x="652.04" y="150.80" width="9.81" height="9.18" fill="#F0CAC6" />
<rect x="535.55" y="159.87" width="9.81" height="9.18" fill="#F6EDEC" />
<rect x="545.26" y="159.87" width="9.81" height="9.18" fill="#FFFFFF" />
<rect x="554.97" y="159.87" width="9.81" height="9.18" fill="#F6EFEE" />
<rect x="564.67" y="159.87" width="9.81" height="9.18" fill="#F5E6E5" />
<rect x="574.38" y="159.87" width="9.81" height="9.18" fill="#F5E6E5" />
<rect x="584.09" y="159.87" width="9.81" height="9.18" fill="#F6EBE9" />
<rect x="593.80" y="159.87" width="9.81" height="9.18" fill="#F4E2E0" />
<rect x="603.50" y="159.87" width="9.81" height="9.18" fill="#F6F1F0" />
<rect x="613.21" y="159.87" width="9.81" height="9.18" fill="#F5E6E5" />
<rect x="622.92" y="159.87" width="9.81" height="9.18" fill="#F6EBE9" />
<rect x="632.63" y="159.87" width="9.81" height="9.18" fill="#F6F1F0" />
<rect x="642.33" y="159.87" width="9.81" height="9.18" fill="#F5E6E5" />
<rect x="652.04" y="159.87" width="9.81" height="9.18" fill="#F6F1F0" />
<rect x="584.14" y="78.23" width="19.42" height="18.15" fill="none" stroke="#E8707A" stroke-width="0.6"/>
<rect x="532.00" y="50.95" width="2.80" height="9.18" fill="#E41A1C" />
<rect x="535.55" y="170.20" width="9.81" height="2.40" fill="#E41A1C" />
<rect x="532.00" y="60.03" width="2.80" height="9.18" fill="#377EB8" />
<rect x="545.26" y="170.20" width="9.81" height="2.40" fill="#377EB8" />
<rect x="532.00" y="69.10" width="2.80" height="9.18" fill="#4DAF4A" />
<rect x="554.97" y="170.20" width="9.81" height="2.40" fill="#4DAF4A" />
<rect x="532.00" y="78.18" width="2.80" height="9.18" fill="#984EA3" />
<rect x="564.67" y="170.20" width="9.81" height="2.40" fill="#984EA3" />
<rect x="532.00" y="87.26" width="2.80" height="9.18" fill="#F29403" />
<rect x="574.38" y="170.20" width="9.81" height="2.40" fill="#F29403" />
<rect x="532.00" y="96.33" width="2.80" height="9.18" fill="#F781BF" />
<rect x="584.09" y="170.20" width="9.81" height="2.40" fill="#F781BF" />
<rect x="532.00" y="105.41" width="2.80" height="9.18" fill="#BC9DCC" />
<rect x="593.80" y="170.20" width="9.81" height="2.40" fill="#BC9DCC" />
<rect x="532.00" y="114.49" width="2.80" height="9.18" fill="#A65628" />
<rect x="603.50" y="170.20" width="9.81" height="2.40" fill="#A65628" />
<rect x="532.00" y="123.57" width="2.80" height="9.18" fill="#54B0E4" />
<rect x="613.21" y="170.20" width="9.81" height="2.40" fill="#54B0E4" />
<rect x="532.00" y="132.64" width="2.80" height="9.18" fill="#222F75" />
<rect x="622.92" y="170.20" width="9.81" height="2.40" fill="#222F75" />
<rect x="532.00" y="141.72" width="2.80" height="9.18" fill="#1B9E77" />
<rect x="632.63" y="170.20" width="9.81" height="2.40" fill="#1B9E77" />
<rect x="532.00" y="150.80" width="2.80" height="9.18" fill="#B2DF8A" />
<rect x="642.33" y="170.20" width="9.81" height="2.40" fill="#B2DF8A" />
<rect x="532.00" y="159.87" width="2.80" height="9.18" fill="#E3BE00" />
<rect x="652.04" y="170.20" width="9.81" height="2.40" fill="#E3BE00" />
<rect x="537.25" y="43.70" width="6.41" height="6.30" fill="#E41A1C" />
<rect x="546.96" y="49.00" width="6.41" height="1.00" fill="#8FB8DC" />
<rect x="556.67" y="47.00" width="6.41" height="3.00" fill="#4DAF4A" />
<rect x="566.37" y="40.20" width="6.41" height="9.80" fill="#984EA3" />
<rect x="576.08" y="39.50" width="6.41" height="10.50" fill="#F29403" />
<rect x="585.79" y="41.80" width="6.41" height="8.20" fill="#F781BF" />
<rect x="595.50" y="36.70" width="6.41" height="13.30" fill="#BC9DCC" />
<rect x="605.20" y="41.80" width="6.41" height="8.20" fill="#A65628" />
<rect x="614.91" y="41.40" width="6.41" height="8.60" fill="#54B0E4" />
<rect x="624.62" y="40.90" width="6.41" height="9.10" fill="#222F75" />
<rect x="634.33" y="46.50" width="6.41" height="3.50" fill="#1B9E77" />
<rect x="644.03" y="39.00" width="6.41" height="11.00" fill="#B2DF8A" />
<rect x="653.74" y="44.20" width="6.41" height="5.80" fill="#E3BE00" />
<rect x="662.80" y="52.54" width="5.50" height="5.99" fill="#E41A1C" />
<rect x="662.80" y="61.62" width="1.80" height="5.99" fill="#377EB8" />
<rect x="662.80" y="70.70" width="4.00" height="5.99" fill="#4DAF4A" />
<rect x="662.80" y="79.77" width="3.70" height="5.99" fill="#984EA3" />
<rect x="662.80" y="88.85" width="4.20" height="5.99" fill="#F29403" />
<rect x="662.80" y="97.93" width="12.10" height="5.99" fill="#F781BF" />
<rect x="662.80" y="107.00" width="13.80" height="5.99" fill="#BC9DCC" />
<rect x="662.80" y="116.08" width="4.40" height="5.99" fill="#A65628" />
<rect x="662.80" y="125.16" width="1.80" height="5.99" fill="#54B0E4" />
<rect x="662.80" y="134.24" width="6.10" height="5.99" fill="#222F75" />
<rect x="662.80" y="143.31" width="1.10" height="5.99" fill="#1B9E77" />
<rect x="662.80" y="152.39" width="8.80" height="5.99" fill="#B2DF8A" />
<rect x="662.80" y="161.47" width="2.00" height="5.99" fill="#E3BE00" />
<line x1="536.40" y1="50.00" x2="536.40" y2="36.10" stroke="#222" stroke-width="0.5" />
<line x1="535.20" y1="50.00" x2="536.40" y2="50.00" stroke="#222" stroke-width="0.5" />
<text x="533.20" y="51.32" font-size="7.6" text-anchor="end" fill="#111" stroke="#111" stroke-width="0.22" >0</text>
<line x1="535.20" y1="44.25" x2="536.40" y2="44.25" stroke="#222" stroke-width="0.5" />
<line x1="535.20" y1="38.50" x2="536.40" y2="38.50" stroke="#222" stroke-width="0.5" />
<text x="533.20" y="40.82" font-size="7.6" text-anchor="end" fill="#111" stroke="#111" stroke-width="0.22" >10</text>
<line x1="535.20" y1="36.10" x2="536.40" y2="36.10" stroke="#222" stroke-width="0.5" />
<line x1="663.20" y1="169.60" x2="677.10" y2="169.60" stroke="#222" stroke-width="0.5" />
<line x1="663.20" y1="169.60" x2="663.20" y2="171.00" stroke="#222" stroke-width="0.5" />
<line x1="667.83" y1="169.60" x2="667.83" y2="171.00" stroke="#222" stroke-width="0.5" />
<line x1="672.46" y1="169.60" x2="672.46" y2="171.00" stroke="#222" stroke-width="0.5" />
<line x1="677.09" y1="169.60" x2="677.09" y2="171.00" stroke="#222" stroke-width="0.5" />
<text transform="translate(662.40,171.20) rotate(-90)" x="0" y="2.72" font-size="7.6" text-anchor="end" fill="#111" stroke="#111" stroke-width="0.22" >0</text>
<text transform="translate(669.50,171.20) rotate(-90)" x="0" y="2.72" font-size="7.6" text-anchor="end" fill="#111" stroke="#111" stroke-width="0.22" >10</text>
<text transform="translate(677.00,171.20) rotate(-90)" x="0" y="2.72" font-size="7.6" text-anchor="end" fill="#111" stroke="#111" stroke-width="0.22" >20</text>
<text transform="translate(540.45,175.20) rotate(-90)" x="0" y="3.01" font-size="8.4" text-anchor="end" fill="#000" stroke="#000" stroke-width="0.22" >BEC</text>
<text transform="translate(550.16,175.20) rotate(-90)" x="0" y="3.01" font-size="8.4" text-anchor="end" fill="#000" stroke="#000" stroke-width="0.22" >Erythrocytes</text>
<text transform="translate(559.87,175.20) rotate(-90)" x="0" y="3.01" font-size="8.4" text-anchor="end" fill="#000" stroke="#000" stroke-width="0.22" >LEC</text>
<text transform="translate(569.58,175.20) rotate(-90)" x="0" y="3.01" font-size="8.4" text-anchor="end" fill="#000" stroke="#000" stroke-width="0.22" >M1_Mac</text>
<text transform="translate(579.28,175.20) rotate(-90)" x="0" y="3.01" font-size="8.4" text-anchor="end" fill="#000" stroke="#000" stroke-width="0.22" >M2_Mac</text>
<text transform="translate(588.99,175.20) rotate(-90)" x="0" y="3.01" font-size="8.4" text-anchor="end" fill="#000" stroke="#000" stroke-width="0.22" >MPC1</text>
<text transform="translate(598.70,175.20) rotate(-90)" x="0" y="3.01" font-size="8.4" text-anchor="end" fill="#000" stroke="#000" stroke-width="0.22" >MPC2</text>
<text transform="translate(608.41,175.20) rotate(-90)" x="0" y="3.01" font-size="8.4" text-anchor="end" fill="#000" stroke="#000" stroke-width="0.22" >Prolif</text>
<text transform="translate(618.12,175.20) rotate(-90)" x="0" y="3.01" font-size="8.4" text-anchor="end" fill="#000" stroke="#000" stroke-width="0.22" >Satellite</text>
<text transform="translate(627.82,175.20) rotate(-90)" x="0" y="3.01" font-size="8.4" text-anchor="end" fill="#000" stroke="#000" stroke-width="0.22" >Schwann</text>
<text transform="translate(637.53,175.20) rotate(-90)" x="0" y="3.01" font-size="8.4" text-anchor="end" fill="#000" stroke="#000" stroke-width="0.22" >SKM</text>
<text transform="translate(647.24,175.20) rotate(-90)" x="0" y="3.01" font-size="8.4" text-anchor="end" fill="#000" stroke="#000" stroke-width="0.22" >SMC</text>
<text transform="translate(656.95,175.20) rotate(-90)" x="0" y="3.01" font-size="8.4" text-anchor="end" fill="#000" stroke="#000" stroke-width="0.22" >T</text>
<text x="600.30" y="32.01" font-size="8.4" text-anchor="middle" fill="#111" stroke="#111" stroke-width="0.22" >Day21_vs_Day0</text>
<text x="518.00" y="20.26" font-size="8.55" text-anchor="middle" fill="#111" stroke="#111" stroke-width="0.22" >Differential interaction strength</text>
<text transform="translate(326.60,99.00) rotate(-90)" x="0" y="3.01" font-size="8.4" text-anchor="middle" fill="#111" stroke="#111" stroke-width="0.22" >Sources (Sender)</text>
<defs>
<linearGradient id="gB1" x1="0" x2="1" y1="0" y2="0"><stop offset="0" stop-color="#2166AC"/><stop offset="0.25" stop-color="#F7F7F7"/><stop offset="0.45" stop-color="#F2B9A6"/><stop offset="0.7" stop-color="#DB6E5F"/><stop offset="1" stop-color="#B2182B"/></linearGradient>
<linearGradient id="gB2" x1="0" x2="1" y1="0" y2="0"><stop offset="0" stop-color="#2166AC"/><stop offset="0.3333" stop-color="#F7F7F7"/><stop offset="0.55" stop-color="#F2B9A6"/><stop offset="0.78" stop-color="#DB6E5F"/><stop offset="1" stop-color="#B2182B"/></linearGradient>
<linearGradient id="gC" x1="0" x2="0" y1="1" y2="0"><stop offset="0.000" stop-color="#5E4FA2"/><stop offset="0.111" stop-color="#3288BD"/><stop offset="0.222" stop-color="#66C2A5"/><stop offset="0.333" stop-color="#ABDDA4"/><stop offset="0.444" stop-color="#E6F598"/><stop offset="0.556" stop-color="#FEE08B"/><stop offset="0.667" stop-color="#FDAE61"/><stop offset="0.778" stop-color="#F46D43"/><stop offset="0.889" stop-color="#D53E4F"/><stop offset="1.000" stop-color="#9E0142"/></linearGradient>
<linearGradient id="gD" x1="0" x2="1" y1="0" y2="0"><stop offset="0.000" stop-color="#FFF5F0"/><stop offset="0.125" stop-color="#FEE0D2"/><stop offset="0.250" stop-color="#FCBBA1"/><stop offset="0.375" stop-color="#FC9272"/><stop offset="0.500" stop-color="#FB6A4A"/><stop offset="0.625" stop-color="#EF3B2C"/><stop offset="0.750" stop-color="#CB181D"/><stop offset="0.875" stop-color="#A50F15"/><stop offset="1.000" stop-color="#67000D"/></linearGradient>
<linearGradient id="gE" x1="0" x2="0" y1="0" y2="1"><stop offset="0" stop-color="#2B1BFF"/><stop offset="1" stop-color="#D3D3D3"/></linearGradient>
</defs>
<text x="448.30" y="230.77" font-size="8.3" text-anchor="middle" fill="#111" stroke="#111" stroke-width="0.22" >Relative values</text>
<rect x="421.50" y="232.90" width="54.80" height="3.10" fill="url(#gB1)" />
<text x="421.90" y="244.46" font-size="8.0" text-anchor="middle" fill="#111" stroke="#111" stroke-width="0.22" >−50</text>
<text x="435.90" y="244.46" font-size="8.0" text-anchor="middle" fill="#111" stroke="#111" stroke-width="0.22" >0</text>
<text x="448.60" y="244.46" font-size="8.0" text-anchor="middle" fill="#111" stroke="#111" stroke-width="0.22" >50</text>
<text x="461.60" y="244.46" font-size="8.0" text-anchor="middle" fill="#111" stroke="#111" stroke-width="0.22" >100</text>
<text x="476.00" y="244.46" font-size="8.0" text-anchor="middle" fill="#111" stroke="#111" stroke-width="0.22" >150</text>
<text x="604.70" y="231.97" font-size="8.3" text-anchor="middle" fill="#111" stroke="#111" stroke-width="0.22" >Relative values</text>
<rect x="577.10" y="234.60" width="55.20" height="3.10" fill="url(#gB2)" />
<text x="577.10" y="245.86" font-size="8.0" text-anchor="middle" fill="#111" stroke="#111" stroke-width="0.22" >−50</text>
<text x="596.10" y="245.86" font-size="8.0" text-anchor="middle" fill="#111" stroke="#111" stroke-width="0.22" >0</text>
<text x="614.20" y="245.86" font-size="8.0" text-anchor="middle" fill="#111" stroke="#111" stroke-width="0.22" >50</text>
<text x="631.80" y="245.86" font-size="8.0" text-anchor="middle" fill="#111" stroke="#111" stroke-width="0.22" >100</text>
<rect x="113.61" y="202.09" width="172.63" height="402.95" fill="#FFFFFF" />
<line x1="129.17" y1="202.09" x2="129.17" y2="605.03" stroke="#E3E3E3" stroke-width="0.55" />
<line x1="143.32" y1="202.09" x2="143.32" y2="605.03" stroke="#E3E3E3" stroke-width="0.55" />
<line x1="157.47" y1="202.09" x2="157.47" y2="605.03" stroke="#8A8A8A" stroke-width="0.5" stroke-dasharray="2.8,1.5"/>
<line x1="171.62" y1="202.09" x2="171.62" y2="605.03" stroke="#E3E3E3" stroke-width="0.55" />
<line x1="185.78" y1="202.09" x2="185.78" y2="605.03" stroke="#E3E3E3" stroke-width="0.55" />
<line x1="199.93" y1="202.09" x2="199.93" y2="605.03" stroke="#8A8A8A" stroke-width="0.5" stroke-dasharray="2.8,1.5"/>
<line x1="214.07" y1="202.09" x2="214.07" y2="605.03" stroke="#E3E3E3" stroke-width="0.55" />
<line x1="228.22" y1="202.09" x2="228.22" y2="605.03" stroke="#E3E3E3" stroke-width="0.55" />
<line x1="242.38" y1="202.09" x2="242.38" y2="605.03" stroke="#8A8A8A" stroke-width="0.5" stroke-dasharray="2.8,1.5"/>
<line x1="256.52" y1="202.09" x2="256.52" y2="605.03" stroke="#E3E3E3" stroke-width="0.55" />
<line x1="270.68" y1="202.09" x2="270.68" y2="605.03" stroke="#E3E3E3" stroke-width="0.55" />
<line x1="113.61" y1="211.09" x2="286.24" y2="211.09" stroke="#E3E3E3" stroke-width="0.55" />
<line x1="113.61" y1="219.28" x2="286.24" y2="219.28" stroke="#E3E3E3" stroke-width="0.55" />
<line x1="113.61" y1="227.47" x2="286.24" y2="227.47" stroke="#E3E3E3" stroke-width="0.55" />
<line x1="113.61" y1="235.66" x2="286.24" y2="235.66" stroke="#E3E3E3" stroke-width="0.55" />
<line x1="113.61" y1="243.85" x2="286.24" y2="243.85" stroke="#E3E3E3" stroke-width="0.55" />
<line x1="113.61" y1="252.04" x2="286.24" y2="252.04" stroke="#E3E3E3" stroke-width="0.55" />
<line x1="113.61" y1="260.24" x2="286.24" y2="260.24" stroke="#E3E3E3" stroke-width="0.55" />
<line x1="113.61" y1="268.43" x2="286.24" y2="268.43" stroke="#E3E3E3" stroke-width="0.55" />
<line x1="113.61" y1="276.62" x2="286.24" y2="276.62" stroke="#E3E3E3" stroke-width="0.55" />
<line x1="113.61" y1="284.81" x2="286.24" y2="284.81" stroke="#E3E3E3" stroke-width="0.55" />
<line x1="113.61" y1="293.00" x2="286.24" y2="293.00" stroke="#E3E3E3" stroke-width="0.55" />
<line x1="113.61" y1="301.19" x2="286.24" y2="301.19" stroke="#E3E3E3" stroke-width="0.55" />
<line x1="113.61" y1="309.38" x2="286.24" y2="309.38" stroke="#E3E3E3" stroke-width="0.55" />
<line x1="113.61" y1="317.56" x2="286.24" y2="317.56" stroke="#E3E3E3" stroke-width="0.55" />
<line x1="113.61" y1="325.75" x2="286.24" y2="325.75" stroke="#E3E3E3" stroke-width="0.55" />
<line x1="113.61" y1="333.94" x2="286.24" y2="333.94" stroke="#E3E3E3" stroke-width="0.55" />
<line x1="113.61" y1="342.13" x2="286.24" y2="342.13" stroke="#E3E3E3" stroke-width="0.55" />
<line x1="113.61" y1="350.32" x2="286.24" y2="350.32" stroke="#E3E3E3" stroke-width="0.55" />
<line x1="113.61" y1="358.51" x2="286.24" y2="358.51" stroke="#E3E3E3" stroke-width="0.55" />
<line x1="113.61" y1="366.70" x2="286.24" y2="366.70" stroke="#E3E3E3" stroke-width="0.55" />
<line x1="113.61" y1="374.89" x2="286.24" y2="374.89" stroke="#E3E3E3" stroke-width="0.55" />
<line x1="113.61" y1="383.08" x2="286.24" y2="383.08" stroke="#E3E3E3" stroke-width="0.55" />
<line x1="113.61" y1="391.27" x2="286.24" y2="391.27" stroke="#E3E3E3" stroke-width="0.55" />
<line x1="113.61" y1="399.46" x2="286.24" y2="399.46" stroke="#E3E3E3" stroke-width="0.55" />
<line x1="113.61" y1="407.65" x2="286.24" y2="407.65" stroke="#E3E3E3" stroke-width="0.55" />
<line x1="113.61" y1="415.85" x2="286.24" y2="415.85" stroke="#E3E3E3" stroke-width="0.55" />
<line x1="113.61" y1="424.03" x2="286.24" y2="424.03" stroke="#E3E3E3" stroke-width="0.55" />
<line x1="113.61" y1="432.23" x2="286.24" y2="432.23" stroke="#E3E3E3" stroke-width="0.55" />
<line x1="113.61" y1="440.41" x2="286.24" y2="440.41" stroke="#E3E3E3" stroke-width="0.55" />
<line x1="113.61" y1="448.61" x2="286.24" y2="448.61" stroke="#E3E3E3" stroke-width="0.55" />
<line x1="113.61" y1="456.79" x2="286.24" y2="456.79" stroke="#E3E3E3" stroke-width="0.55" />
<line x1="113.61" y1="464.98" x2="286.24" y2="464.98" stroke="#E3E3E3" stroke-width="0.55" />
<line x1="113.61" y1="473.18" x2="286.24" y2="473.18" stroke="#E3E3E3" stroke-width="0.55" />
<line x1="113.61" y1="481.37" x2="286.24" y2="481.37" stroke="#E3E3E3" stroke-width="0.55" />
<line x1="113.61" y1="489.56" x2="286.24" y2="489.56" stroke="#E3E3E3" stroke-width="0.55" />
<line x1="113.61" y1="497.75" x2="286.24" y2="497.75" stroke="#E3E3E3" stroke-width="0.55" />
<line x1="113.61" y1="505.94" x2="286.24" y2="505.94" stroke="#E3E3E3" stroke-width="0.55" />
<line x1="113.61" y1="514.12" x2="286.24" y2="514.12" stroke="#E3E3E3" stroke-width="0.55" />
<line x1="113.61" y1="522.32" x2="286.24" y2="522.32" stroke="#E3E3E3" stroke-width="0.55" />
<line x1="113.61" y1="530.50" x2="286.24" y2="530.50" stroke="#E3E3E3" stroke-width="0.55" />
<line x1="113.61" y1="538.69" x2="286.24" y2="538.69" stroke="#E3E3E3" stroke-width="0.55" />
<line x1="113.61" y1="546.88" x2="286.24" y2="546.88" stroke="#E3E3E3" stroke-width="0.55" />
<line x1="113.61" y1="555.08" x2="286.24" y2="555.08" stroke="#E3E3E3" stroke-width="0.55" />
<line x1="113.61" y1="563.26" x2="286.24" y2="563.26" stroke="#E3E3E3" stroke-width="0.55" />
<line x1="113.61" y1="571.45" x2="286.24" y2="571.45" stroke="#E3E3E3" stroke-width="0.55" />
<line x1="113.61" y1="579.64" x2="286.24" y2="579.64" stroke="#E3E3E3" stroke-width="0.55" />
<line x1="113.61" y1="587.84" x2="286.24" y2="587.84" stroke="#E3E3E3" stroke-width="0.55" />
<line x1="113.61" y1="596.02" x2="286.24" y2="596.02" stroke="#E3E3E3" stroke-width="0.55" />
<rect x="113.61" y="202.09" width="172.63" height="402.95" fill="none" stroke="#8C8C8C" stroke-width="0.6"/>
<line x1="111.21" y1="207.00" x2="113.61" y2="207.00" stroke="#222" stroke-width="0.75" />
<text x="110.11" y="210.03" font-size="8.45" text-anchor="end" fill="#111" stroke="#111" stroke-width="0.22" >Vcam1 − (Itga4+Itgb7)</text>
<circle cx="150.40" cy="207.00" r="2.60" fill="#3288BD"/>
<circle cx="192.85" cy="207.00" r="2.60" fill="#486BAF"/>
<line x1="111.21" y1="215.19" x2="113.61" y2="215.19" stroke="#222" stroke-width="0.75" />
<text x="110.11" y="218.22" font-size="8.45" text-anchor="end" fill="#111" stroke="#111" stroke-width="0.22" >Vcam1 − (Itga4+Itgb1)</text>
<circle cx="150.40" cy="215.19" r="2.60" fill="#4CA5B1"/>
<circle cx="192.85" cy="215.19" r="2.60" fill="#3288BD"/>
<circle cx="235.30" cy="215.19" r="2.60" fill="#4CA5B1"/>
<circle cx="277.75" cy="215.19" r="2.60" fill="#3288BD"/>
<line x1="111.21" y1="223.38" x2="113.61" y2="223.38" stroke="#222" stroke-width="0.75" />
<text x="110.11" y="226.41" font-size="8.45" text-anchor="end" fill="#111" stroke="#111" stroke-width="0.22" >Tnfsf12  − Tnfrsf12a</text>
<circle cx="192.85" cy="223.38" r="2.60" fill="#82CDA5"/>
<circle cx="207.00" cy="223.38" r="2.60" fill="#3288BD"/>
<circle cx="221.15" cy="223.38" r="2.60" fill="#3682BA"/>
<circle cx="235.30" cy="223.38" r="2.60" fill="#ABDDA4"/>
<circle cx="249.45" cy="223.38" r="2.60" fill="#7BCAA5"/>
<circle cx="263.60" cy="223.38" r="2.60" fill="#56B1AC"/>
<circle cx="277.75" cy="223.38" r="2.60" fill="#F1EC92"/>
<line x1="111.21" y1="231.57" x2="113.61" y2="231.57" stroke="#222" stroke-width="0.75" />
<text x="110.11" y="234.60" font-size="8.45" text-anchor="end" fill="#111" stroke="#111" stroke-width="0.22" >Tnf  − Tnfrsf1a</text>
<circle cx="235.30" cy="231.57" r="2.60" fill="#6DC5A5"/>
<circle cx="277.75" cy="231.57" r="2.60" fill="#6DC5A5"/>
<line x1="111.21" y1="239.76" x2="113.61" y2="239.76" stroke="#222" stroke-width="0.75" />
<text x="110.11" y="242.79" font-size="8.45" text-anchor="end" fill="#111" stroke="#111" stroke-width="0.22" >Thbs1  − Sdc4</text>
<circle cx="136.25" cy="239.76" r="2.60" fill="#DAF09A"/>
<circle cx="178.70" cy="239.76" r="2.60" fill="#B1DFA3"/>
<circle cx="192.85" cy="239.76" r="2.60" fill="#B1DFA3"/>
<line x1="111.21" y1="247.95" x2="113.61" y2="247.95" stroke="#222" stroke-width="0.75" />
<text x="110.11" y="250.98" font-size="8.45" text-anchor="end" fill="#111" stroke="#111" stroke-width="0.22" >Thbs1  − Sdc1</text>
<circle cx="136.25" cy="247.95" r="2.60" fill="#61BCA7"/>
<circle cx="150.40" cy="247.95" r="2.60" fill="#3288BD"/>
<circle cx="178.70" cy="247.95" r="2.60" fill="#E7F497"/>
<circle cx="192.85" cy="247.95" r="2.60" fill="#9DD8A4"/>
<circle cx="221.15" cy="247.95" r="2.60" fill="#3288BD"/>
<circle cx="235.30" cy="247.95" r="2.60" fill="#486BAF"/>
<circle cx="263.60" cy="247.95" r="2.60" fill="#96D5A4"/>
<circle cx="277.75" cy="247.95" r="2.60" fill="#74C7A5"/>
<line x1="111.21" y1="256.14" x2="113.61" y2="256.14" stroke="#222" stroke-width="0.75" />
<text x="110.11" y="259.17" font-size="8.45" text-anchor="end" fill="#111" stroke="#111" stroke-width="0.22" >Thbs1  − Cd47</text>
<circle cx="136.25" cy="256.14" r="2.60" fill="#FEE08B"/>
<circle cx="150.40" cy="256.14" r="2.60" fill="#D4EE9C"/>
<circle cx="178.70" cy="256.14" r="2.60" fill="#FEE08B"/>
<circle cx="192.85" cy="256.14" r="2.60" fill="#C8E99E"/>
<line x1="111.21" y1="264.33" x2="113.61" y2="264.33" stroke="#222" stroke-width="0.75" />
<text x="110.11" y="267.36" font-size="8.45" text-anchor="end" fill="#111" stroke="#111" stroke-width="0.22" >Tgfb1 − (Tgfbr1+Tgfbr2)</text>
<circle cx="136.25" cy="264.33" r="2.60" fill="#5CB6AA"/>
<circle cx="150.40" cy="264.33" r="2.60" fill="#6DC5A5"/>
<circle cx="164.55" cy="264.33" r="2.60" fill="#3288BD"/>
<circle cx="178.70" cy="264.33" r="2.60" fill="#3C94B8"/>
<circle cx="192.85" cy="264.33" r="2.60" fill="#3C94B8"/>
<circle cx="221.15" cy="264.33" r="2.60" fill="#5CB6AA"/>
<circle cx="235.30" cy="264.33" r="2.60" fill="#74C7A5"/>
<circle cx="249.45" cy="264.33" r="2.60" fill="#378EBB"/>
<circle cx="263.60" cy="264.33" r="2.60" fill="#3C94B8"/>
<circle cx="277.75" cy="264.33" r="2.60" fill="#4299B6"/>
<line x1="111.21" y1="272.52" x2="113.61" y2="272.52" stroke="#222" stroke-width="0.75" />
<text x="110.11" y="275.55" font-size="8.45" text-anchor="end" fill="#111" stroke="#111" stroke-width="0.22" >Tgfb1  − (Acvr1+Tgfbr1)</text>
<circle cx="136.25" cy="272.52" r="2.60" fill="#66C2A5"/>
<circle cx="150.40" cy="272.52" r="2.60" fill="#82CDA5"/>
<circle cx="178.70" cy="272.52" r="2.60" fill="#6DC5A5"/>
<circle cx="192.85" cy="272.52" r="2.60" fill="#96D5A4"/>
<circle cx="221.15" cy="272.52" r="2.60" fill="#6DC5A5"/>
<circle cx="235.30" cy="272.52" r="2.60" fill="#8FD2A4"/>
<circle cx="263.60" cy="272.52" r="2.60" fill="#74C7A5"/>
<circle cx="277.75" cy="272.52" r="2.60" fill="#ABDDA4"/>
<line x1="111.21" y1="280.71" x2="113.61" y2="280.71" stroke="#222" stroke-width="0.75" />
<text x="110.11" y="283.74" font-size="8.45" text-anchor="end" fill="#111" stroke="#111" stroke-width="0.22" >Spp1  − Cd44</text>
<circle cx="136.25" cy="280.71" r="2.60" fill="#88CFA5"/>
<circle cx="150.40" cy="280.71" r="2.60" fill="#3288BD"/>
<circle cx="178.70" cy="280.71" r="2.60" fill="#74C7A5"/>
<circle cx="192.85" cy="280.71" r="2.60" fill="#378EBB"/>
<circle cx="221.15" cy="280.71" r="2.60" fill="#FECC7A"/>
<circle cx="235.30" cy="280.71" r="2.60" fill="#51ABAF"/>
<circle cx="263.60" cy="280.71" r="2.60" fill="#FEE08B"/>
<circle cx="277.75" cy="280.71" r="2.60" fill="#56B1AC"/>
<line x1="111.21" y1="288.90" x2="113.61" y2="288.90" stroke="#222" stroke-width="0.75" />
<text x="110.11" y="291.93" font-size="8.45" text-anchor="end" fill="#111" stroke="#111" stroke-width="0.22" >Spp1  − (Itgav+Itgb5)</text>
<circle cx="136.25" cy="288.90" r="2.60" fill="#5CB6AA"/>
<circle cx="150.40" cy="288.90" r="2.60" fill="#378EBB"/>
<circle cx="178.70" cy="288.90" r="2.60" fill="#66C2A5"/>
<circle cx="192.85" cy="288.90" r="2.60" fill="#4299B6"/>
<circle cx="221.15" cy="288.90" r="2.60" fill="#DAF09A"/>
<circle cx="235.30" cy="288.90" r="2.60" fill="#56B1AC"/>
<circle cx="263.60" cy="288.90" r="2.60" fill="#FBE28C"/>
<circle cx="277.75" cy="288.90" r="2.60" fill="#61BCA7"/>
<line x1="111.21" y1="297.09" x2="113.61" y2="297.09" stroke="#222" stroke-width="0.75" />
<text x="110.11" y="300.12" font-size="8.45" text-anchor="end" fill="#111" stroke="#111" stroke-width="0.22" >Spp1  − (Itgav+Itgb1)</text>
<circle cx="136.25" cy="297.09" r="2.60" fill="#66C2A5"/>
<circle cx="150.40" cy="297.09" r="2.60" fill="#4CA5B1"/>
<circle cx="178.70" cy="297.09" r="2.60" fill="#88CFA5"/>
<circle cx="192.85" cy="297.09" r="2.60" fill="#4CA5B1"/>
<circle cx="221.15" cy="297.09" r="2.60" fill="#F4E890"/>
<circle cx="235.30" cy="297.09" r="2.60" fill="#66C2A5"/>
<circle cx="263.60" cy="297.09" r="2.60" fill="#FDB869"/>
<circle cx="277.75" cy="297.09" r="2.60" fill="#6DC5A5"/>
<line x1="111.21" y1="305.28" x2="113.61" y2="305.28" stroke="#222" stroke-width="0.75" />
<text x="110.11" y="308.31" font-size="8.45" text-anchor="end" fill="#111" stroke="#111" stroke-width="0.22" >Spp1  − (Itga5+Itgb1)</text>
<circle cx="136.25" cy="305.28" r="2.60" fill="#66C2A5"/>
<circle cx="150.40" cy="305.28" r="2.60" fill="#378EBB"/>
<circle cx="178.70" cy="305.28" r="2.60" fill="#88CFA5"/>
<circle cx="192.85" cy="305.28" r="2.60" fill="#479FB3"/>
<circle cx="221.15" cy="305.28" r="2.60" fill="#E8F397"/>
<circle cx="235.30" cy="305.28" r="2.60" fill="#4CA5B1"/>
<circle cx="263.60" cy="305.28" r="2.60" fill="#FDAE61"/>
<circle cx="277.75" cy="305.28" r="2.60" fill="#6DC5A5"/>
<line x1="111.21" y1="313.47" x2="113.61" y2="313.47" stroke="#222" stroke-width="0.75" />
<text x="110.11" y="316.50" font-size="8.45" text-anchor="end" fill="#111" stroke="#111" stroke-width="0.22" >Sirpb1c − Cd47</text>
<circle cx="136.25" cy="313.47" r="2.60" fill="#FEE08B"/>
<circle cx="150.40" cy="313.47" r="2.60" fill="#BDE4A0"/>
<circle cx="178.70" cy="313.47" r="2.60" fill="#FEE08B"/>
<circle cx="192.85" cy="313.47" r="2.60" fill="#B1DFA3"/>
<line x1="111.21" y1="321.66" x2="113.61" y2="321.66" stroke="#222" stroke-width="0.75" />
<text x="110.11" y="324.69" font-size="8.45" text-anchor="end" fill="#111" stroke="#111" stroke-width="0.22" >Sirpb1b − Cd47</text>
<circle cx="136.25" cy="321.66" r="2.60" fill="#9DD8A4"/>
<circle cx="150.40" cy="321.66" r="2.60" fill="#82CDA5"/>
<circle cx="178.70" cy="321.66" r="2.60" fill="#96D5A4"/>
<circle cx="192.85" cy="321.66" r="2.60" fill="#7BCAA5"/>
<line x1="111.21" y1="329.85" x2="113.61" y2="329.85" stroke="#222" stroke-width="0.75" />
<text x="110.11" y="332.88" font-size="8.45" text-anchor="end" fill="#111" stroke="#111" stroke-width="0.22" >Sema4d  − Plxnb2</text>
<circle cx="136.25" cy="329.85" r="2.60" fill="#3682BA"/>
<circle cx="150.40" cy="329.85" r="2.60" fill="#486BAF"/>
<circle cx="178.70" cy="329.85" r="2.60" fill="#3C94B8"/>
<circle cx="192.85" cy="329.85" r="2.60" fill="#3288BD"/>
<line x1="111.21" y1="338.04" x2="113.61" y2="338.04" stroke="#222" stroke-width="0.75" />
<text x="110.11" y="341.07" font-size="8.45" text-anchor="end" fill="#111" stroke="#111" stroke-width="0.22" >Sema4a  − Plxnb2</text>
<circle cx="150.40" cy="338.04" r="2.60" fill="#486BAF"/>
<circle cx="164.55" cy="338.04" r="2.60" fill="#5E4FA2"/>
<circle cx="192.85" cy="338.04" r="2.60" fill="#3288BD"/>
<circle cx="235.30" cy="338.04" r="2.60" fill="#4471B2"/>
<circle cx="249.45" cy="338.04" r="2.60" fill="#378EBB"/>
<circle cx="277.75" cy="338.04" r="2.60" fill="#3C94B8"/>
<line x1="111.21" y1="346.23" x2="113.61" y2="346.23" stroke="#222" stroke-width="0.75" />
<text x="110.11" y="349.26" font-size="8.45" text-anchor="end" fill="#111" stroke="#111" stroke-width="0.22" >Sema4a  − (Nrp1+Plxna1)</text>
<circle cx="150.40" cy="346.23" r="2.60" fill="#3682BA"/>
<circle cx="192.85" cy="346.23" r="2.60" fill="#486BAF"/>
<circle cx="235.30" cy="346.23" r="2.60" fill="#3682BA"/>
<circle cx="277.75" cy="346.23" r="2.60" fill="#486BAF"/>
<line x1="111.21" y1="354.42" x2="113.61" y2="354.42" stroke="#222" stroke-width="0.75" />
<text x="110.11" y="357.45" font-size="8.45" text-anchor="end" fill="#111" stroke="#111" stroke-width="0.22" >Pros1  − Axl</text>
<circle cx="207.00" cy="354.42" r="2.60" fill="#D4EE9C"/>
<circle cx="235.30" cy="354.42" r="2.60" fill="#9DD8A4"/>
<circle cx="249.45" cy="354.42" r="2.60" fill="#BDE4A0"/>
<circle cx="277.75" cy="354.42" r="2.60" fill="#82CDA5"/>
<line x1="111.21" y1="362.61" x2="113.61" y2="362.61" stroke="#222" stroke-width="0.75" />
<text x="110.11" y="365.64" font-size="8.45" text-anchor="end" fill="#111" stroke="#111" stroke-width="0.22" >Postn  − (Itgav+Itgb5)</text>
<circle cx="150.40" cy="362.61" r="2.60" fill="#51ABAF"/>
<circle cx="178.70" cy="362.61" r="2.60" fill="#8FD2A4"/>
<circle cx="192.85" cy="362.61" r="2.60" fill="#51ABAF"/>
<circle cx="221.15" cy="362.61" r="2.60" fill="#8FD2A4"/>
<circle cx="235.30" cy="362.61" r="2.60" fill="#56B1AC"/>
<circle cx="263.60" cy="362.61" r="2.60" fill="#B1DFA3"/>
<circle cx="277.75" cy="362.61" r="2.60" fill="#56B1AC"/>
<line x1="111.21" y1="370.80" x2="113.61" y2="370.80" stroke="#222" stroke-width="0.75" />
<text x="110.11" y="373.83" font-size="8.45" text-anchor="end" fill="#111" stroke="#111" stroke-width="0.22" >Pdgfc  − Pdgfra</text>
<circle cx="235.30" cy="370.80" r="2.60" fill="#3682BA"/>
<circle cx="277.75" cy="370.80" r="2.60" fill="#5A55A5"/>
<line x1="111.21" y1="378.99" x2="113.61" y2="378.99" stroke="#222" stroke-width="0.75" />
<text x="110.11" y="382.02" font-size="8.45" text-anchor="end" fill="#F8766D" stroke="#F8766D" stroke-width="0.22" >Osm  − (Osmr+Il6st)</text>
<circle cx="136.25" cy="378.99" r="2.60" fill="#3288BD"/>
<circle cx="150.40" cy="378.99" r="2.60" fill="#3682BA"/>
<circle cx="178.70" cy="378.99" r="2.60" fill="#3B7DB8"/>
<circle cx="192.85" cy="378.99" r="2.60" fill="#486BAF"/>
<line x1="111.21" y1="387.18" x2="113.61" y2="387.18" stroke="#222" stroke-width="0.75" />
<text x="110.11" y="390.21" font-size="8.45" text-anchor="end" fill="#111" stroke="#111" stroke-width="0.22" >Nampt  − (Itga5+Itgb1)</text>
<circle cx="136.25" cy="387.18" r="2.60" fill="#4299B6"/>
<circle cx="150.40" cy="387.18" r="2.60" fill="#4CA5B1"/>
<circle cx="178.70" cy="387.18" r="2.60" fill="#66C2A5"/>
<circle cx="192.85" cy="387.18" r="2.60" fill="#56B1AC"/>
<circle cx="221.15" cy="387.18" r="2.60" fill="#4CA5B1"/>
<circle cx="235.30" cy="387.18" r="2.60" fill="#4CA5B1"/>
<circle cx="263.60" cy="387.18" r="2.60" fill="#66C2A5"/>
<circle cx="277.75" cy="387.18" r="2.60" fill="#66C2A5"/>
<line x1="111.21" y1="395.37" x2="113.61" y2="395.37" stroke="#222" stroke-width="0.75" />
<text x="110.11" y="398.40" font-size="8.45" text-anchor="end" fill="#111" stroke="#111" stroke-width="0.22" >Mif  − Ackr3</text>
<circle cx="122.10" cy="395.37" r="2.60" fill="#B7E2A2"/>
<circle cx="136.25" cy="395.37" r="2.60" fill="#E6F598"/>
<circle cx="150.40" cy="395.37" r="2.60" fill="#DAF09A"/>
<circle cx="192.85" cy="395.37" r="2.60" fill="#96D5A4"/>
<circle cx="207.00" cy="395.37" r="2.60" fill="#96D5A4"/>
<circle cx="221.15" cy="395.37" r="2.60" fill="#E6F598"/>
<circle cx="235.30" cy="395.37" r="2.60" fill="#DAF09A"/>
<circle cx="277.75" cy="395.37" r="2.60" fill="#96D5A4"/>
<line x1="111.21" y1="403.56" x2="113.61" y2="403.56" stroke="#222" stroke-width="0.75" />
<text x="110.11" y="406.59" font-size="8.45" text-anchor="end" fill="#111" stroke="#111" stroke-width="0.22" >Mif  − (Cd74+Cd44)</text>
<circle cx="136.25" cy="403.56" r="2.60" fill="#E6F598"/>
<circle cx="150.40" cy="403.56" r="2.60" fill="#74C7A5"/>
<circle cx="178.70" cy="403.56" r="1.60" fill="#E6F598"/>
<circle cx="192.85" cy="403.56" r="2.60" fill="#74C7A5"/>
<circle cx="221.15" cy="403.56" r="2.60" fill="#E6F598"/>
<circle cx="235.30" cy="403.56" r="2.60" fill="#74C7A5"/>
<circle cx="263.60" cy="403.56" r="1.60" fill="#E6F598"/>
<circle cx="277.75" cy="403.56" r="2.60" fill="#82CDA5"/>
<line x1="111.21" y1="411.75" x2="113.61" y2="411.75" stroke="#222" stroke-width="0.75" />
<text x="110.11" y="414.78" font-size="8.45" text-anchor="end" fill="#111" stroke="#111" stroke-width="0.22" >Lgals9 − P4hb</text>
<circle cx="136.25" cy="411.75" r="2.60" fill="#96D5A4"/>
<circle cx="150.40" cy="411.75" r="2.60" fill="#9DD8A4"/>
<circle cx="178.70" cy="411.75" r="2.60" fill="#96D5A4"/>
<circle cx="192.85" cy="411.75" r="2.60" fill="#A4DAA4"/>
<circle cx="221.15" cy="411.75" r="2.60" fill="#B1DFA3"/>
<circle cx="235.30" cy="411.75" r="2.60" fill="#96D5A4"/>
<circle cx="263.60" cy="411.75" r="2.60" fill="#C3E79F"/>
<circle cx="277.75" cy="411.75" r="2.60" fill="#9DD8A4"/>
<line x1="111.21" y1="419.94" x2="113.61" y2="419.94" stroke="#222" stroke-width="0.75" />
<text x="110.11" y="422.97" font-size="8.45" text-anchor="end" fill="#111" stroke="#111" stroke-width="0.22" >Lgals9  − Cd44</text>
<circle cx="136.25" cy="419.94" r="2.60" fill="#479FB3"/>
<circle cx="150.40" cy="419.94" r="2.60" fill="#4299B6"/>
<circle cx="178.70" cy="419.94" r="2.60" fill="#3C94B8"/>
<circle cx="192.85" cy="419.94" r="2.60" fill="#479FB3"/>
<circle cx="221.15" cy="419.94" r="2.60" fill="#5CB6AA"/>
<circle cx="235.30" cy="419.94" r="2.60" fill="#479FB3"/>
<circle cx="263.60" cy="419.94" r="2.60" fill="#56B1AC"/>
<circle cx="277.75" cy="419.94" r="2.60" fill="#4CA5B1"/>
<line x1="111.21" y1="428.13" x2="113.61" y2="428.13" stroke="#222" stroke-width="0.75" />
<text x="110.11" y="431.16" font-size="8.45" text-anchor="end" fill="#111" stroke="#111" stroke-width="0.22" >Igf1  − Igf1r</text>
<circle cx="235.30" cy="428.13" r="2.60" fill="#4C66AD"/>
<circle cx="277.75" cy="428.13" r="2.60" fill="#486BAF"/>
<line x1="111.21" y1="436.32" x2="113.61" y2="436.32" stroke="#222" stroke-width="0.75" />
<text x="110.11" y="439.35" font-size="8.45" text-anchor="end" fill="#111" stroke="#111" stroke-width="0.22" >Gas6  − Axl</text>
<circle cx="207.00" cy="436.32" r="2.60" fill="#9E0142"/>
<circle cx="221.15" cy="436.32" r="2.60" fill="#FEE08B"/>
<circle cx="235.30" cy="436.32" r="2.60" fill="#DB474D"/>
<circle cx="249.45" cy="436.32" r="2.60" fill="#D53E4F"/>
<circle cx="263.60" cy="436.32" r="2.60" fill="#BDE4A0"/>
<circle cx="277.75" cy="436.32" r="2.60" fill="#F7804C"/>
<line x1="111.21" y1="444.51" x2="113.61" y2="444.51" stroke="#222" stroke-width="0.75" />
<text x="110.11" y="447.54" font-size="8.45" text-anchor="end" fill="#111" stroke="#111" stroke-width="0.22" >Fn1  − Sdc1</text>
<circle cx="150.40" cy="444.51" r="2.60" fill="#66C2A5"/>
<circle cx="178.70" cy="444.51" r="2.60" fill="#FBE28C"/>
<circle cx="192.85" cy="444.51" r="2.60" fill="#F4E890"/>
<circle cx="235.30" cy="444.51" r="2.60" fill="#4CA5B1"/>
<circle cx="263.60" cy="444.51" r="2.60" fill="#DAF09A"/>
<circle cx="277.75" cy="444.51" r="2.60" fill="#B7E2A2"/>
<line x1="111.21" y1="452.70" x2="113.61" y2="452.70" stroke="#222" stroke-width="0.75" />
<text x="110.11" y="455.73" font-size="8.45" text-anchor="end" fill="#111" stroke="#111" stroke-width="0.22" >Fn1  − Cd44</text>
<circle cx="136.25" cy="452.70" r="2.60" fill="#F5E790"/>
<circle cx="150.40" cy="452.70" r="2.60" fill="#B7E2A2"/>
<circle cx="178.70" cy="452.70" r="2.60" fill="#E6F598"/>
<circle cx="192.85" cy="452.70" r="2.60" fill="#DAF09A"/>
<circle cx="221.15" cy="452.70" r="2.60" fill="#C8E99E"/>
<circle cx="235.30" cy="452.70" r="2.60" fill="#96D5A4"/>
<circle cx="263.60" cy="452.70" r="1.60" fill="#9DD8A4"/>
<circle cx="277.75" cy="452.70" r="2.60" fill="#9DD8A4"/>
<line x1="111.21" y1="460.89" x2="113.61" y2="460.89" stroke="#222" stroke-width="0.75" />
<text x="110.11" y="463.92" font-size="8.45" text-anchor="end" fill="#111" stroke="#111" stroke-width="0.22" >Fn1  − (Itgav+Itgb1)</text>
<circle cx="150.40" cy="460.89" r="2.60" fill="#ECF095"/>
<circle cx="178.70" cy="460.89" r="2.60" fill="#FAE38D"/>
<circle cx="192.85" cy="460.89" r="2.60" fill="#FAE38D"/>
<circle cx="235.30" cy="460.89" r="2.60" fill="#B1DFA3"/>
<circle cx="277.75" cy="460.89" r="2.60" fill="#C3E79F"/>
<line x1="111.21" y1="469.08" x2="113.61" y2="469.08" stroke="#222" stroke-width="0.75" />
<text x="110.11" y="472.11" font-size="8.45" text-anchor="end" fill="#111" stroke="#111" stroke-width="0.22" >Fn1  − (Itga5+Itgb1)</text>
<circle cx="150.40" cy="469.08" r="2.60" fill="#B7E2A2"/>
<circle cx="178.70" cy="469.08" r="2.60" fill="#FAE38D"/>
<circle cx="192.85" cy="469.08" r="2.60" fill="#E8F397"/>
<circle cx="235.30" cy="469.08" r="2.60" fill="#96D5A4"/>
<circle cx="263.60" cy="469.08" r="2.60" fill="#DAF09A"/>
<circle cx="277.75" cy="469.08" r="2.60" fill="#B7E2A2"/>
<line x1="111.21" y1="477.27" x2="113.61" y2="477.27" stroke="#222" stroke-width="0.75" />
<text x="110.11" y="480.30" font-size="8.45" text-anchor="end" fill="#111" stroke="#111" stroke-width="0.22" >Col6a1  − Sdc1</text>
<circle cx="277.75" cy="477.27" r="2.60" fill="#479FB3"/>
<line x1="111.21" y1="485.46" x2="113.61" y2="485.46" stroke="#222" stroke-width="0.75" />
<text x="110.11" y="488.49" font-size="8.45" text-anchor="end" fill="#111" stroke="#111" stroke-width="0.22" >Col6a1  − Cd44</text>
<circle cx="277.75" cy="485.46" r="1.60" fill="#3288BD"/>
<line x1="111.21" y1="493.65" x2="113.61" y2="493.65" stroke="#222" stroke-width="0.75" />
<text x="110.11" y="496.68" font-size="8.45" text-anchor="end" fill="#111" stroke="#111" stroke-width="0.22" >Col6a1  − (Itga11+Itgb1)</text>
<circle cx="235.30" cy="493.65" r="2.60" fill="#3682BA"/>
<circle cx="277.75" cy="493.65" r="2.60" fill="#4299B6"/>
<line x1="111.21" y1="501.84" x2="113.61" y2="501.84" stroke="#222" stroke-width="0.75" />
<text x="110.11" y="504.87" font-size="8.45" text-anchor="end" fill="#111" stroke="#111" stroke-width="0.22" >Col6a1  − (Itga10+Itgb1)</text>
<circle cx="277.75" cy="501.84" r="2.60" fill="#3F77B5"/>
<line x1="111.21" y1="510.03" x2="113.61" y2="510.03" stroke="#222" stroke-width="0.75" />
<text x="110.11" y="513.06" font-size="8.45" text-anchor="end" fill="#111" stroke="#111" stroke-width="0.22" >Col1a2  − Sdc4</text>
<circle cx="192.85" cy="510.03" r="2.60" fill="#FDB869"/>
<circle cx="277.75" cy="510.03" r="2.60" fill="#F67A49"/>
<line x1="111.21" y1="518.22" x2="113.61" y2="518.22" stroke="#222" stroke-width="0.75" />
<text x="110.11" y="521.25" font-size="8.45" text-anchor="end" fill="#111" stroke="#111" stroke-width="0.22" >Col1a2  − Sdc1</text>
<circle cx="150.40" cy="518.22" r="2.60" fill="#6DC5A5"/>
<circle cx="178.70" cy="518.22" r="2.60" fill="#FDBD6D"/>
<circle cx="192.85" cy="518.22" r="2.60" fill="#FEE08B"/>
<circle cx="235.30" cy="518.22" r="2.60" fill="#7BCAA5"/>
<circle cx="263.60" cy="518.22" r="2.60" fill="#FDB869"/>
<circle cx="277.75" cy="518.22" r="2.60" fill="#FDBD6D"/>
<line x1="111.21" y1="526.41" x2="113.61" y2="526.41" stroke="#222" stroke-width="0.75" />
<text x="110.11" y="529.44" font-size="8.45" text-anchor="end" fill="#111" stroke="#111" stroke-width="0.22" >Col1a2  − Cd44</text>
<circle cx="136.25" cy="526.41" r="2.60" fill="#FED682"/>
<circle cx="150.40" cy="526.41" r="2.60" fill="#DAF09A"/>
<circle cx="178.70" cy="526.41" r="2.60" fill="#FBE28C"/>
<circle cx="192.85" cy="526.41" r="2.60" fill="#E8F397"/>
<circle cx="221.15" cy="526.41" r="2.60" fill="#FED682"/>
<circle cx="235.30" cy="526.41" r="2.60" fill="#E6F598"/>
<circle cx="263.60" cy="526.41" r="2.60" fill="#FEE08B"/>
<circle cx="277.75" cy="526.41" r="2.60" fill="#FEE08B"/>
<line x1="111.21" y1="534.60" x2="113.61" y2="534.60" stroke="#222" stroke-width="0.75" />
<text x="110.11" y="537.63" font-size="8.45" text-anchor="end" fill="#111" stroke="#111" stroke-width="0.22" >Col1a2  − (Itga11+Itgb1)</text>
<circle cx="150.40" cy="534.60" r="2.60" fill="#B7E2A2"/>
<circle cx="178.70" cy="534.60" r="2.60" fill="#FDBD6D"/>
<circle cx="192.85" cy="534.60" r="2.60" fill="#FEE08B"/>
<circle cx="235.30" cy="534.60" r="2.60" fill="#DAF09A"/>
<circle cx="249.45" cy="534.60" r="2.60" fill="#61BCA7"/>
<circle cx="263.60" cy="534.60" r="2.60" fill="#FDBD6D"/>
<circle cx="277.75" cy="534.60" r="2.60" fill="#FDBD6D"/>
<line x1="111.21" y1="542.79" x2="113.61" y2="542.79" stroke="#222" stroke-width="0.75" />
<text x="110.11" y="545.82" font-size="8.45" text-anchor="end" fill="#111" stroke="#111" stroke-width="0.22" >Col1a2  − (Itga10+Itgb1)</text>
<circle cx="192.85" cy="542.79" r="2.60" fill="#B1DFA3"/>
<circle cx="277.75" cy="542.79" r="2.60" fill="#C3E79F"/>
<line x1="111.21" y1="550.98" x2="113.61" y2="550.98" stroke="#222" stroke-width="0.75" />
<text x="110.11" y="554.01" font-size="8.45" text-anchor="end" fill="#111" stroke="#111" stroke-width="0.22" >Col1a1  − Sdc4</text>
<circle cx="192.85" cy="550.98" r="2.60" fill="#F99455"/>
<circle cx="277.75" cy="550.98" r="2.60" fill="#F46D43"/>
<line x1="111.21" y1="559.17" x2="113.61" y2="559.17" stroke="#222" stroke-width="0.75" />
<text x="110.11" y="562.20" font-size="8.45" text-anchor="end" fill="#111" stroke="#111" stroke-width="0.22" >Col1a1  − Sdc1</text>
<circle cx="150.40" cy="559.17" r="2.60" fill="#6DC5A5"/>
<circle cx="178.70" cy="559.17" r="2.60" fill="#FDBD6D"/>
<circle cx="192.85" cy="559.17" r="2.60" fill="#FED682"/>
<circle cx="235.30" cy="559.17" r="2.60" fill="#7BCAA5"/>
<circle cx="263.60" cy="559.17" r="2.60" fill="#FDB869"/>
<circle cx="277.75" cy="559.17" r="2.60" fill="#FDB869"/>
<line x1="111.21" y1="567.36" x2="113.61" y2="567.36" stroke="#222" stroke-width="0.75" />
<text x="110.11" y="570.39" font-size="8.45" text-anchor="end" fill="#111" stroke="#111" stroke-width="0.22" >Col1a1  − Cd44</text>
<circle cx="136.25" cy="567.36" r="2.60" fill="#FED17E"/>
<circle cx="150.40" cy="567.36" r="2.60" fill="#E6F598"/>
<circle cx="178.70" cy="567.36" r="2.60" fill="#FEE08B"/>
<circle cx="192.85" cy="567.36" r="2.60" fill="#EBF195"/>
<circle cx="221.15" cy="567.36" r="2.60" fill="#FED17E"/>
<circle cx="235.30" cy="567.36" r="2.60" fill="#E6F598"/>
<circle cx="263.60" cy="567.36" r="2.60" fill="#FEE08B"/>
<circle cx="277.75" cy="567.36" r="2.60" fill="#FEE08B"/>
<line x1="111.21" y1="575.55" x2="113.61" y2="575.55" stroke="#222" stroke-width="0.75" />
<text x="110.11" y="578.58" font-size="8.45" text-anchor="end" fill="#111" stroke="#111" stroke-width="0.22" >Col1a1  − (Itga11+Itgb1)</text>
<circle cx="150.40" cy="575.55" r="2.60" fill="#B7E2A2"/>
<circle cx="178.70" cy="575.55" r="2.60" fill="#FDB869"/>
<circle cx="192.85" cy="575.55" r="2.60" fill="#FECC7A"/>
<circle cx="235.30" cy="575.55" r="2.60" fill="#DAF09A"/>
<circle cx="263.60" cy="575.55" r="2.60" fill="#FDB869"/>
<circle cx="277.75" cy="575.55" r="2.60" fill="#FDB869"/>
<line x1="111.21" y1="583.74" x2="113.61" y2="583.74" stroke="#222" stroke-width="0.75" />
<text x="110.11" y="586.77" font-size="8.45" text-anchor="end" fill="#111" stroke="#111" stroke-width="0.22" >Col1a1  − (Itga10+Itgb1)</text>
<circle cx="192.85" cy="583.74" r="2.60" fill="#B1DFA3"/>
<circle cx="277.75" cy="583.74" r="2.60" fill="#C3E79F"/>
<line x1="111.21" y1="591.93" x2="113.61" y2="591.93" stroke="#222" stroke-width="0.75" />
<text x="110.11" y="594.96" font-size="8.45" text-anchor="end" fill="#111" stroke="#111" stroke-width="0.22" >App  − Cd74</text>
<circle cx="150.40" cy="591.93" r="2.60" fill="#5CB6AA"/>
<circle cx="192.85" cy="591.93" r="2.60" fill="#51ABAF"/>
<circle cx="221.15" cy="591.93" r="2.60" fill="#E6F598"/>
<circle cx="235.30" cy="591.93" r="2.60" fill="#66C2A5"/>
<circle cx="277.75" cy="591.93" r="2.60" fill="#6DC5A5"/>
<line x1="111.21" y1="600.12" x2="113.61" y2="600.12" stroke="#222" stroke-width="0.75" />
<text x="110.11" y="603.15" font-size="8.45" text-anchor="end" fill="#111" stroke="#111" stroke-width="0.22" >(Itgav+Itgb1) − Adgre5</text>
<circle cx="192.85" cy="600.12" r="1.60" fill="#5E4FA2"/>
<line x1="122.10" y1="605.03" x2="122.10" y2="607.43" stroke="#333" stroke-width="0.7" />
<text transform="translate(127.10,608.23) rotate(-45)" x="0" y="6.29" font-size="8.5" text-anchor="end" fill="#F8766D" stroke="#F8766D" stroke-width="0.18">M1_Mac −&gt; MPC1 (Day0)</text>
<line x1="136.25" y1="605.03" x2="136.25" y2="607.43" stroke="#333" stroke-width="0.7" />
<text transform="translate(141.25,608.23) rotate(-45)" x="0" y="6.29" font-size="8.5" text-anchor="end" fill="#00BA38" stroke="#00BA38" stroke-width="0.18">M1_Mac −&gt; MPC1 (Day7)</text>
<line x1="150.40" y1="605.03" x2="150.40" y2="607.43" stroke="#333" stroke-width="0.7" />
<text transform="translate(155.40,608.23) rotate(-45)" x="0" y="6.29" font-size="8.5" text-anchor="end" fill="#619CFF" stroke="#619CFF" stroke-width="0.18">M1_Mac −&gt; MPC1 (Day21)</text>
<line x1="164.55" y1="605.03" x2="164.55" y2="607.43" stroke="#333" stroke-width="0.7" />
<text transform="translate(169.55,608.23) rotate(-45)" x="0" y="6.29" font-size="8.5" text-anchor="end" fill="#F8766D" stroke="#F8766D" stroke-width="0.18">M1_Mac −&gt; MPC2 (Day0)</text>
<line x1="178.70" y1="605.03" x2="178.70" y2="607.43" stroke="#333" stroke-width="0.7" />
<text transform="translate(183.70,608.23) rotate(-45)" x="0" y="6.29" font-size="8.5" text-anchor="end" fill="#00BA38" stroke="#00BA38" stroke-width="0.18">M1_Mac −&gt; MPC2 (Day7)</text>
<line x1="192.85" y1="605.03" x2="192.85" y2="607.43" stroke="#333" stroke-width="0.7" />
<text transform="translate(197.85,608.23) rotate(-45)" x="0" y="6.29" font-size="8.5" text-anchor="end" fill="#619CFF" stroke="#619CFF" stroke-width="0.18">M1_Mac −&gt; MPC2 (Day21)</text>
<line x1="207.00" y1="605.03" x2="207.00" y2="607.43" stroke="#333" stroke-width="0.7" />
<text transform="translate(212.00,608.23) rotate(-45)" x="0" y="6.29" font-size="8.5" text-anchor="end" fill="#F8766D" stroke="#F8766D" stroke-width="0.18">M2_Mac −&gt; MPC1 (Day0)</text>
<line x1="221.15" y1="605.03" x2="221.15" y2="607.43" stroke="#333" stroke-width="0.7" />
<text transform="translate(226.15,608.23) rotate(-45)" x="0" y="6.29" font-size="8.5" text-anchor="end" fill="#00BA38" stroke="#00BA38" stroke-width="0.18">M2_Mac −&gt; MPC1 (Day7)</text>
<line x1="235.30" y1="605.03" x2="235.30" y2="607.43" stroke="#333" stroke-width="0.7" />
<text transform="translate(240.30,608.23) rotate(-45)" x="0" y="6.29" font-size="8.5" text-anchor="end" fill="#619CFF" stroke="#619CFF" stroke-width="0.18">M2_Mac −&gt; MPC1 (Day21)</text>
<line x1="249.45" y1="605.03" x2="249.45" y2="607.43" stroke="#333" stroke-width="0.7" />
<text transform="translate(254.45,608.23) rotate(-45)" x="0" y="6.29" font-size="8.5" text-anchor="end" fill="#F8766D" stroke="#F8766D" stroke-width="0.18">M2_Mac −&gt; MPC2 (Day0)</text>
<line x1="263.60" y1="605.03" x2="263.60" y2="607.43" stroke="#333" stroke-width="0.7" />
<text transform="translate(268.60,608.23) rotate(-45)" x="0" y="6.29" font-size="8.5" text-anchor="end" fill="#00BA38" stroke="#00BA38" stroke-width="0.18">M2_Mac −&gt; MPC2 (Day7)</text>
<line x1="277.75" y1="605.03" x2="277.75" y2="607.43" stroke="#333" stroke-width="0.7" />
<text transform="translate(282.75,608.23) rotate(-45)" x="0" y="6.29" font-size="8.5" text-anchor="end" fill="#619CFF" stroke="#619CFF" stroke-width="0.18">M2_Mac −&gt; MPC2 (Day21)</text>
<text x="295.40" y="491.97" font-size="8.3" text-anchor="start" fill="#111" stroke="#111" stroke-width="0.22" >Commun. Prob.</text>
<rect x="297.10" y="497.70" width="5.30" height="54.00" fill="url(#gC)" />
<text x="303.70" y="501.27" font-size="8.3" text-anchor="start" fill="#111" stroke="#111" stroke-width="0.22" >max</text>
<text x="303.70" y="553.57" font-size="8.3" text-anchor="start" fill="#111" stroke="#111" stroke-width="0.22" >min</text>
<text x="295.80" y="570.97" font-size="8.3" text-anchor="start" fill="#111" stroke="#111" stroke-width="0.22" >p−value</text>
<circle cx="297.20" cy="583.10" r="1.60" fill="#000"/>
<text x="301.50" y="585.97" font-size="8.3" text-anchor="start" fill="#111" stroke="#111" stroke-width="0.22" >0.01 &lt; p &lt; 0.05</text>
<circle cx="297.60" cy="597.10" r="2.70" fill="#000"/>
<text x="305.90" y="599.97" font-size="8.3" text-anchor="start" fill="#111" stroke="#111" stroke-width="0.22" >p &lt; 0.01</text>
<rect x="367.60" y="332.00" width="10.11" height="8.50" fill="#EF3D2D" />
<rect x="387.82" y="332.00" width="10.11" height="8.50" fill="#67000D" />
<rect x="418.14" y="332.00" width="10.11" height="8.50" fill="#FCAB8E" />
<rect x="428.25" y="332.00" width="10.11" height="8.50" fill="#FEE6DA" />
<rect x="438.35" y="332.00" width="10.11" height="8.50" fill="#FFEEE6" />
<rect x="448.46" y="332.00" width="10.11" height="8.50" fill="#FFF0E9" />
<rect x="478.78" y="332.00" width="10.11" height="8.50" fill="#FCBBA1" />
<rect x="362.00" y="306.45" width="3.90" height="8.60" fill="#E41A1C" />
<rect x="367.55" y="418.00" width="10.21" height="2.00" fill="#E41A1C" />
<rect x="362.00" y="314.95" width="3.90" height="8.60" fill="#377EB8" />
<rect x="377.66" y="418.00" width="10.21" height="2.00" fill="#377EB8" />
<rect x="362.00" y="323.45" width="3.90" height="8.60" fill="#4DAF4A" />
<rect x="387.77" y="418.00" width="10.21" height="2.00" fill="#4DAF4A" />
<rect x="362.00" y="331.95" width="3.90" height="8.60" fill="#984EA3" />
<rect x="397.87" y="418.00" width="10.21" height="2.00" fill="#984EA3" />
<rect x="362.00" y="340.45" width="3.90" height="8.60" fill="#F29403" />
<rect x="407.98" y="418.00" width="10.21" height="2.00" fill="#F29403" />
<rect x="362.00" y="348.95" width="3.90" height="8.60" fill="#F781BF" />
<rect x="418.09" y="418.00" width="10.21" height="2.00" fill="#F781BF" />
<rect x="362.00" y="357.45" width="3.90" height="8.60" fill="#BC9DCC" />
<rect x="428.20" y="418.00" width="10.21" height="2.00" fill="#BC9DCC" />
<rect x="362.00" y="365.95" width="3.90" height="8.60" fill="#A65628" />
<rect x="438.30" y="418.00" width="10.21" height="2.00" fill="#A65628" />
<rect x="362.00" y="374.45" width="3.90" height="8.60" fill="#54B0E4" />
<rect x="448.41" y="418.00" width="10.21" height="2.00" fill="#54B0E4" />
<rect x="362.00" y="382.95" width="3.90" height="8.60" fill="#222F75" />
<rect x="458.52" y="418.00" width="10.21" height="2.00" fill="#222F75" />
<rect x="362.00" y="391.45" width="3.90" height="8.60" fill="#1B9E77" />
<rect x="468.63" y="418.00" width="10.21" height="2.00" fill="#1B9E77" />
<rect x="362.00" y="399.95" width="3.90" height="8.60" fill="#B2DF8A" />
<rect x="478.73" y="418.00" width="10.21" height="2.00" fill="#B2DF8A" />
<rect x="362.00" y="408.45" width="3.90" height="8.60" fill="#E3BE00" />
<rect x="488.84" y="418.00" width="10.21" height="2.00" fill="#E3BE00" />
<rect x="369.62" y="299.10" width="6.06" height="6.80" fill="#E41A1C" />
<rect x="379.73" y="305.10" width="6.06" height="1.00" fill="#7DABD1" />
<rect x="389.84" y="296.10" width="6.06" height="9.80" fill="#4DAF4A" />
<rect x="399.94" y="305.10" width="6.06" height="1.00" fill="#BC8CC3" />
<rect x="410.05" y="305.10" width="6.06" height="1.00" fill="#F7B95B" />
<rect x="420.16" y="301.50" width="6.06" height="4.40" fill="#F781BF" />
<rect x="430.27" y="304.30" width="6.06" height="1.60" fill="#BC9DCC" />
<rect x="440.38" y="304.50" width="6.06" height="1.40" fill="#A65628" />
<rect x="450.48" y="304.60" width="6.06" height="1.30" fill="#54B0E4" />
<rect x="460.59" y="305.10" width="6.06" height="1.00" fill="#6F78A5" />
<rect x="470.70" y="305.10" width="6.06" height="1.00" fill="#6BC0A7" />
<rect x="480.81" y="302.10" width="6.06" height="3.80" fill="#B2DF8A" />
<rect x="490.91" y="305.10" width="6.06" height="1.00" fill="#EDD559" />
<rect x="499.90" y="308.20" width="0.90" height="5.10" fill="#ED6A6B" />
<rect x="499.90" y="316.70" width="0.90" height="5.10" fill="#7DABD1" />
<rect x="499.90" y="325.20" width="0.90" height="5.10" fill="#8BCB89" />
<rect x="500.20" y="333.70" width="19.80" height="5.10" fill="#984EA3" />
<rect x="499.90" y="342.20" width="0.90" height="5.10" fill="#F7B95B" />
<rect x="499.90" y="350.70" width="0.90" height="5.10" fill="#FAADD5" />
<rect x="499.90" y="359.20" width="0.90" height="5.10" fill="#D3BFDE" />
<rect x="499.90" y="367.70" width="0.90" height="5.10" fill="#C59173" />
<rect x="499.90" y="376.20" width="0.90" height="5.10" fill="#90CCED" />
<rect x="499.90" y="384.70" width="0.90" height="5.10" fill="#6F78A5" />
<rect x="499.90" y="393.20" width="0.90" height="5.10" fill="#6BC0A7" />
<rect x="499.90" y="401.70" width="0.90" height="5.10" fill="#CDEAB3" />
<rect x="499.90" y="410.20" width="0.90" height="5.10" fill="#EDD559" />
<line x1="366.40" y1="305.90" x2="366.40" y2="296.10" stroke="#222" stroke-width="0.45" />
<line x1="365.10" y1="305.90" x2="366.40" y2="305.90" stroke="#222" stroke-width="0.45" />
<text x="364.00" y="306.47" font-size="6.9" text-anchor="end" fill="#111" stroke="#111" stroke-width="0.22" >0</text>
<line x1="365.10" y1="303.50" x2="366.40" y2="303.50" stroke="#222" stroke-width="0.45" />
<line x1="365.10" y1="301.10" x2="366.40" y2="301.10" stroke="#222" stroke-width="0.45" />
<line x1="365.10" y1="298.70" x2="366.40" y2="298.70" stroke="#222" stroke-width="0.45" />
<text x="364.00" y="300.27" font-size="6.9" text-anchor="end" fill="#111" stroke="#111" stroke-width="0.22" >0.004</text>
<line x1="365.10" y1="296.30" x2="366.40" y2="296.30" stroke="#222" stroke-width="0.45" />
<line x1="500.20" y1="416.60" x2="520.00" y2="416.60" stroke="#222" stroke-width="0.45" />
<line x1="500.20" y1="416.60" x2="500.20" y2="418.00" stroke="#222" stroke-width="0.45" />
<text transform="translate(500.40,419.00) rotate(-90)" x="0" y="2.36" font-size="6.6" text-anchor="end" fill="#111" stroke="#111" stroke-width="0.22" >0</text>
<line x1="509.80" y1="416.60" x2="509.80" y2="418.00" stroke="#222" stroke-width="0.45" />
<text transform="translate(510.00,419.00) rotate(-90)" x="0" y="2.36" font-size="6.6" text-anchor="end" fill="#111" stroke="#111" stroke-width="0.22" >0.01</text>
<line x1="520.00" y1="416.60" x2="520.00" y2="418.00" stroke="#222" stroke-width="0.45" />
<text transform="translate(520.20,419.00) rotate(-90)" x="0" y="2.36" font-size="6.6" text-anchor="end" fill="#111" stroke="#111" stroke-width="0.22" >0.02</text>
<text x="359.40" y="312.56" font-size="8.4" text-anchor="end" fill="#111" stroke="#111" stroke-width="0.22" >BEC</text>
<text x="359.40" y="321.06" font-size="8.4" text-anchor="end" fill="#111" stroke="#111" stroke-width="0.22" >Erythrocytes</text>
<text x="359.40" y="329.56" font-size="8.4" text-anchor="end" fill="#111" stroke="#111" stroke-width="0.22" >LEC</text>
<text x="359.40" y="338.06" font-size="8.4" text-anchor="end" fill="#111" stroke="#111" stroke-width="0.22" >M1_Mac</text>
<text x="359.40" y="346.56" font-size="8.4" text-anchor="end" fill="#111" stroke="#111" stroke-width="0.22" >M2_Mac</text>
<text x="359.40" y="355.06" font-size="8.4" text-anchor="end" fill="#111" stroke="#111" stroke-width="0.22" >MPC1</text>
<text x="359.40" y="363.56" font-size="8.4" text-anchor="end" fill="#111" stroke="#111" stroke-width="0.22" >MPC2</text>
<text x="359.40" y="372.06" font-size="8.4" text-anchor="end" fill="#111" stroke="#111" stroke-width="0.22" >Prolif</text>
<text x="359.40" y="380.56" font-size="8.4" text-anchor="end" fill="#111" stroke="#111" stroke-width="0.22" >Satellite</text>
<text x="359.40" y="389.06" font-size="8.4" text-anchor="end" fill="#111" stroke="#111" stroke-width="0.22" >Schwann</text>
<text x="359.40" y="397.56" font-size="8.4" text-anchor="end" fill="#111" stroke="#111" stroke-width="0.22" >SKM</text>
<text x="359.40" y="406.06" font-size="8.4" text-anchor="end" fill="#111" stroke="#111" stroke-width="0.22" >SMC</text>
<text x="359.40" y="414.56" font-size="8.4" text-anchor="end" fill="#111" stroke="#111" stroke-width="0.22" >T</text>
<text transform="translate(372.65,422.90) rotate(-90)" x="0" y="3.03" font-size="8.45" text-anchor="end" fill="#111" stroke="#111" stroke-width="0.22" >BEC</text>
<text transform="translate(382.76,422.90) rotate(-90)" x="0" y="3.03" font-size="8.45" text-anchor="end" fill="#111" stroke="#111" stroke-width="0.22" >Erythrocytes</text>
<text transform="translate(392.87,422.90) rotate(-90)" x="0" y="3.03" font-size="8.45" text-anchor="end" fill="#111" stroke="#111" stroke-width="0.22" >LEC</text>
<text transform="translate(402.98,422.90) rotate(-90)" x="0" y="3.03" font-size="8.45" text-anchor="end" fill="#111" stroke="#111" stroke-width="0.22" >M1_Mac</text>
<text transform="translate(413.08,422.90) rotate(-90)" x="0" y="3.03" font-size="8.45" text-anchor="end" fill="#111" stroke="#111" stroke-width="0.22" >M2_Mac</text>
<text transform="translate(423.19,422.90) rotate(-90)" x="0" y="3.03" font-size="8.45" text-anchor="end" fill="#111" stroke="#111" stroke-width="0.22" >MPC1</text>
<text transform="translate(433.30,422.90) rotate(-90)" x="0" y="3.03" font-size="8.45" text-anchor="end" fill="#111" stroke="#111" stroke-width="0.22" >MPC2</text>
<text transform="translate(443.41,422.90) rotate(-90)" x="0" y="3.03" font-size="8.45" text-anchor="end" fill="#111" stroke="#111" stroke-width="0.22" >Prolif</text>
<text transform="translate(453.52,422.90) rotate(-90)" x="0" y="3.03" font-size="8.45" text-anchor="end" fill="#111" stroke="#111" stroke-width="0.22" >Satellite</text>
<text transform="translate(463.62,422.90) rotate(-90)" x="0" y="3.03" font-size="8.45" text-anchor="end" fill="#111" stroke="#111" stroke-width="0.22" >Schwann</text>
<text transform="translate(473.73,422.90) rotate(-90)" x="0" y="3.03" font-size="8.45" text-anchor="end" fill="#111" stroke="#111" stroke-width="0.22" >SKM</text>
<text transform="translate(483.84,422.90) rotate(-90)" x="0" y="3.03" font-size="8.45" text-anchor="end" fill="#111" stroke="#111" stroke-width="0.22" >SMC</text>
<text transform="translate(493.95,422.90) rotate(-90)" x="0" y="3.03" font-size="8.45" text-anchor="end" fill="#111" stroke="#111" stroke-width="0.22" >T</text>
<text x="423.00" y="288.77" font-size="8.3" text-anchor="middle" fill="#111" stroke="#111" stroke-width="0.22" >Day7</text>
<rect x="530.80" y="332.00" width="10.14" height="8.50" fill="#67000D" />
<rect x="551.08" y="332.00" width="10.14" height="8.50" fill="#FCAB8E" />
<rect x="581.49" y="332.00" width="10.14" height="8.50" fill="#FCB196" />
<rect x="591.63" y="332.00" width="10.14" height="8.50" fill="#FFEBE2" />
<rect x="642.32" y="332.00" width="10.14" height="8.50" fill="#FCB196" />
<rect x="525.20" y="306.45" width="3.90" height="8.60" fill="#E41A1C" />
<rect x="530.75" y="418.00" width="10.24" height="2.00" fill="#E41A1C" />
<rect x="525.20" y="314.95" width="3.90" height="8.60" fill="#377EB8" />
<rect x="540.89" y="418.00" width="10.24" height="2.00" fill="#377EB8" />
<rect x="525.20" y="323.45" width="3.90" height="8.60" fill="#4DAF4A" />
<rect x="551.03" y="418.00" width="10.24" height="2.00" fill="#4DAF4A" />
<rect x="525.20" y="331.95" width="3.90" height="8.60" fill="#984EA3" />
<rect x="561.17" y="418.00" width="10.24" height="2.00" fill="#984EA3" />
<rect x="525.20" y="340.45" width="3.90" height="8.60" fill="#F29403" />
<rect x="571.30" y="418.00" width="10.24" height="2.00" fill="#F29403" />
<rect x="525.20" y="348.95" width="3.90" height="8.60" fill="#F781BF" />
<rect x="581.44" y="418.00" width="10.24" height="2.00" fill="#F781BF" />
<rect x="525.20" y="357.45" width="3.90" height="8.60" fill="#BC9DCC" />
<rect x="591.58" y="418.00" width="10.24" height="2.00" fill="#BC9DCC" />
<rect x="525.20" y="365.95" width="3.90" height="8.60" fill="#A65628" />
<rect x="601.72" y="418.00" width="10.24" height="2.00" fill="#A65628" />
<rect x="525.20" y="374.45" width="3.90" height="8.60" fill="#54B0E4" />
<rect x="611.86" y="418.00" width="10.24" height="2.00" fill="#54B0E4" />
<rect x="525.20" y="382.95" width="3.90" height="8.60" fill="#222F75" />
<rect x="622.00" y="418.00" width="10.24" height="2.00" fill="#222F75" />
<rect x="525.20" y="391.45" width="3.90" height="8.60" fill="#1B9E77" />
<rect x="632.13" y="418.00" width="10.24" height="2.00" fill="#1B9E77" />
<rect x="525.20" y="399.95" width="3.90" height="8.60" fill="#B2DF8A" />
<rect x="642.27" y="418.00" width="10.24" height="2.00" fill="#B2DF8A" />
<rect x="525.20" y="408.45" width="3.90" height="8.60" fill="#E3BE00" />
<rect x="652.41" y="418.00" width="10.24" height="2.00" fill="#E3BE00" />
<rect x="532.83" y="295.40" width="6.08" height="10.50" fill="#E41A1C" />
<rect x="542.97" y="305.10" width="6.08" height="1.00" fill="#7DABD1" />
<rect x="553.10" y="300.60" width="6.08" height="5.30" fill="#4DAF4A" />
<rect x="563.24" y="305.10" width="6.08" height="1.00" fill="#BC8CC3" />
<rect x="573.38" y="305.10" width="6.08" height="1.00" fill="#F7B95B" />
<rect x="583.52" y="301.00" width="6.08" height="4.90" fill="#F781BF" />
<rect x="593.66" y="303.10" width="6.08" height="2.80" fill="#BC9DCC" />
<rect x="603.80" y="305.10" width="6.08" height="1.00" fill="#C59173" />
<rect x="613.94" y="305.10" width="6.08" height="1.00" fill="#90CCED" />
<rect x="624.07" y="305.10" width="6.08" height="1.00" fill="#6F78A5" />
<rect x="634.21" y="305.10" width="6.08" height="1.00" fill="#6BC0A7" />
<rect x="644.35" y="300.60" width="6.08" height="5.30" fill="#B2DF8A" />
<rect x="654.49" y="305.10" width="6.08" height="1.00" fill="#EDD559" />
<rect x="663.50" y="308.20" width="0.90" height="5.10" fill="#ED6A6B" />
<rect x="663.50" y="316.70" width="0.90" height="5.10" fill="#7DABD1" />
<rect x="663.50" y="325.20" width="0.90" height="5.10" fill="#8BCB89" />
<rect x="663.80" y="333.70" width="19.80" height="5.10" fill="#984EA3" />
<rect x="663.50" y="342.20" width="0.90" height="5.10" fill="#F7B95B" />
<rect x="663.50" y="350.70" width="0.90" height="5.10" fill="#FAADD5" />
<rect x="663.50" y="359.20" width="0.90" height="5.10" fill="#D3BFDE" />
<rect x="663.50" y="367.70" width="0.90" height="5.10" fill="#C59173" />
<rect x="663.50" y="376.20" width="0.90" height="5.10" fill="#90CCED" />
<rect x="663.50" y="384.70" width="0.90" height="5.10" fill="#6F78A5" />
<rect x="663.50" y="393.20" width="0.90" height="5.10" fill="#6BC0A7" />
<rect x="663.50" y="401.70" width="0.90" height="5.10" fill="#CDEAB3" />
<rect x="663.50" y="410.20" width="0.90" height="5.10" fill="#EDD559" />
<line x1="529.60" y1="305.90" x2="529.60" y2="296.10" stroke="#222" stroke-width="0.45" />
<line x1="528.30" y1="305.90" x2="529.60" y2="305.90" stroke="#222" stroke-width="0.45" />
<text x="527.20" y="306.37" font-size="6.9" text-anchor="end" fill="#111" stroke="#111" stroke-width="0.22" >0</text>
<line x1="528.30" y1="303.50" x2="529.60" y2="303.50" stroke="#222" stroke-width="0.45" />
<line x1="528.30" y1="301.10" x2="529.60" y2="301.10" stroke="#222" stroke-width="0.45" />
<line x1="528.30" y1="298.70" x2="529.60" y2="298.70" stroke="#222" stroke-width="0.45" />
<line x1="528.30" y1="296.30" x2="529.60" y2="296.30" stroke="#222" stroke-width="0.45" />
<text x="527.20" y="299.97" font-size="6.9" text-anchor="end" fill="#111" stroke="#111" stroke-width="0.22" >0.002</text>
<line x1="663.80" y1="416.60" x2="681.50" y2="416.60" stroke="#222" stroke-width="0.45" />
<line x1="663.80" y1="416.60" x2="663.80" y2="418.00" stroke="#222" stroke-width="0.45" />
<text transform="translate(664.00,419.00) rotate(-90)" x="0" y="2.36" font-size="6.6" text-anchor="end" fill="#111" stroke="#111" stroke-width="0.22" >0</text>
<line x1="672.40" y1="416.60" x2="672.40" y2="418.00" stroke="#222" stroke-width="0.45" />
<text transform="translate(672.60,419.00) rotate(-90)" x="0" y="2.36" font-size="6.6" text-anchor="end" fill="#111" stroke="#111" stroke-width="0.22" >0.004</text>
<line x1="681.50" y1="416.60" x2="681.50" y2="418.00" stroke="#222" stroke-width="0.45" />
<text transform="translate(681.70,419.00) rotate(-90)" x="0" y="2.36" font-size="6.6" text-anchor="end" fill="#111" stroke="#111" stroke-width="0.22" >0.008</text>
<text transform="translate(535.87,422.90) rotate(-90)" x="0" y="3.03" font-size="8.45" text-anchor="end" fill="#111" stroke="#111" stroke-width="0.22" >BEC</text>
<text transform="translate(546.01,422.90) rotate(-90)" x="0" y="3.03" font-size="8.45" text-anchor="end" fill="#111" stroke="#111" stroke-width="0.22" >Erythrocytes</text>
<text transform="translate(556.15,422.90) rotate(-90)" x="0" y="3.03" font-size="8.45" text-anchor="end" fill="#111" stroke="#111" stroke-width="0.22" >LEC</text>
<text transform="translate(566.28,422.90) rotate(-90)" x="0" y="3.03" font-size="8.45" text-anchor="end" fill="#111" stroke="#111" stroke-width="0.22" >M1_Mac</text>
<text transform="translate(576.42,422.90) rotate(-90)" x="0" y="3.03" font-size="8.45" text-anchor="end" fill="#111" stroke="#111" stroke-width="0.22" >M2_Mac</text>
<text transform="translate(586.56,422.90) rotate(-90)" x="0" y="3.03" font-size="8.45" text-anchor="end" fill="#111" stroke="#111" stroke-width="0.22" >MPC1</text>
<text transform="translate(596.70,422.90) rotate(-90)" x="0" y="3.03" font-size="8.45" text-anchor="end" fill="#111" stroke="#111" stroke-width="0.22" >MPC2</text>
<text transform="translate(606.84,422.90) rotate(-90)" x="0" y="3.03" font-size="8.45" text-anchor="end" fill="#111" stroke="#111" stroke-width="0.22" >Prolif</text>
<text transform="translate(616.98,422.90) rotate(-90)" x="0" y="3.03" font-size="8.45" text-anchor="end" fill="#111" stroke="#111" stroke-width="0.22" >Satellite</text>
<text transform="translate(627.12,422.90) rotate(-90)" x="0" y="3.03" font-size="8.45" text-anchor="end" fill="#111" stroke="#111" stroke-width="0.22" >Schwann</text>
<text transform="translate(637.25,422.90) rotate(-90)" x="0" y="3.03" font-size="8.45" text-anchor="end" fill="#111" stroke="#111" stroke-width="0.22" >SKM</text>
<text transform="translate(647.39,422.90) rotate(-90)" x="0" y="3.03" font-size="8.45" text-anchor="end" fill="#111" stroke="#111" stroke-width="0.22" >SMC</text>
<text transform="translate(657.53,422.90) rotate(-90)" x="0" y="3.03" font-size="8.45" text-anchor="end" fill="#111" stroke="#111" stroke-width="0.22" >T</text>
<text x="598.70" y="288.77" font-size="8.3" text-anchor="middle" fill="#111" stroke="#111" stroke-width="0.22" >Day21</text>
<text x="505.00" y="277.73" font-size="8.45" text-anchor="middle" fill="#111" stroke="#111" stroke-width="0.22" >OSM signaling network</text>
<text transform="translate(307.60,362.80) rotate(-90)" x="0" y="3.04" font-size="8.5" text-anchor="middle" fill="#111" stroke="#111" stroke-width="0.22" >Sources (Sender)</text>
<text x="514.50" y="478.27" font-size="8.3" text-anchor="middle" fill="#111" stroke="#111" stroke-width="0.22" >Commun. Prob.</text>
<rect x="480.90" y="481.30" width="70.80" height="3.40" fill="url(#gD)" />
<text x="477.40" y="493.56" font-size="8.0" text-anchor="middle" fill="#111" stroke="#111" stroke-width="0.22" >0</text>
<text x="550.30" y="493.56" font-size="8.0" text-anchor="middle" fill="#111" stroke="#111" stroke-width="0.22" >0.008</text>
<line x1="407.60" y1="530.70" x2="407.60" y2="615.40" stroke="#111" stroke-width="0.8" />
<line x1="407.20" y1="615.00" x2="571.60" y2="615.00" stroke="#111" stroke-width="0.8" />
<line x1="405.60" y1="543.00" x2="407.60" y2="543.00" stroke="#222" stroke-width="0.7" />
<text x="405.00" y="546.01" font-size="8.4" text-anchor="end" fill="#111" stroke="#111" stroke-width="0.22" >Osm</text>
<line x1="405.60" y1="563.20" x2="407.60" y2="563.20" stroke="#222" stroke-width="0.7" />
<text x="405.00" y="566.21" font-size="8.4" text-anchor="end" fill="#111" stroke="#111" stroke-width="0.22" >Lifr</text>
<line x1="405.60" y1="583.50" x2="407.60" y2="583.50" stroke="#222" stroke-width="0.7" />
<text x="405.00" y="586.51" font-size="8.4" text-anchor="end" fill="#111" stroke="#111" stroke-width="0.22" >Osmr</text>
<line x1="405.60" y1="603.70" x2="407.60" y2="603.70" stroke="#222" stroke-width="0.7" />
<text x="405.00" y="606.71" font-size="8.4" text-anchor="end" fill="#111" stroke="#111" stroke-width="0.22" >Il6st</text>
<line x1="415.30" y1="615.00" x2="415.30" y2="617.40" stroke="#222" stroke-width="0.6" />
<text transform="translate(419.10,617.80) rotate(-45)" x="0" y="6.14" font-size="8.4" text-anchor="end" fill="#111" stroke="#111" stroke-width="0.22">M1_Mac:Day0</text>
<line x1="428.57" y1="615.00" x2="428.57" y2="617.40" stroke="#222" stroke-width="0.6" />
<text transform="translate(432.37,617.80) rotate(-45)" x="0" y="6.14" font-size="8.4" text-anchor="end" fill="#111" stroke="#111" stroke-width="0.22">M1_Mac:Day7</text>
<line x1="441.84" y1="615.00" x2="441.84" y2="617.40" stroke="#222" stroke-width="0.6" />
<text transform="translate(445.64,617.80) rotate(-45)" x="0" y="6.14" font-size="8.4" text-anchor="end" fill="#111" stroke="#111" stroke-width="0.22">M1_Mac:Day21</text>
<line x1="455.11" y1="615.00" x2="455.11" y2="617.40" stroke="#222" stroke-width="0.6" />
<text transform="translate(458.91,617.80) rotate(-45)" x="0" y="6.14" font-size="8.4" text-anchor="end" fill="#111" stroke="#111" stroke-width="0.22">M2_Mac:Day0</text>
<line x1="468.38" y1="615.00" x2="468.38" y2="617.40" stroke="#222" stroke-width="0.6" />
<text transform="translate(472.18,617.80) rotate(-45)" x="0" y="6.14" font-size="8.4" text-anchor="end" fill="#111" stroke="#111" stroke-width="0.22">M2_Mac:Day7</text>
<line x1="481.65" y1="615.00" x2="481.65" y2="617.40" stroke="#222" stroke-width="0.6" />
<text transform="translate(485.45,617.80) rotate(-45)" x="0" y="6.14" font-size="8.4" text-anchor="end" fill="#111" stroke="#111" stroke-width="0.22">M2_Mac:Day21</text>
<line x1="494.92" y1="615.00" x2="494.92" y2="617.40" stroke="#222" stroke-width="0.6" />
<text transform="translate(498.72,617.80) rotate(-45)" x="0" y="6.14" font-size="8.4" text-anchor="end" fill="#111" stroke="#111" stroke-width="0.22">MPC1:Day0</text>
<line x1="508.19" y1="615.00" x2="508.19" y2="617.40" stroke="#222" stroke-width="0.6" />
<text transform="translate(511.99,617.80) rotate(-45)" x="0" y="6.14" font-size="8.4" text-anchor="end" fill="#111" stroke="#111" stroke-width="0.22">MPC1:Day7</text>
<line x1="521.46" y1="615.00" x2="521.46" y2="617.40" stroke="#222" stroke-width="0.6" />
<text transform="translate(525.26,617.80) rotate(-45)" x="0" y="6.14" font-size="8.4" text-anchor="end" fill="#111" stroke="#111" stroke-width="0.22">MPC1:Day21</text>
<line x1="534.73" y1="615.00" x2="534.73" y2="617.40" stroke="#222" stroke-width="0.6" />
<text transform="translate(538.53,617.80) rotate(-45)" x="0" y="6.14" font-size="8.4" text-anchor="end" fill="#111" stroke="#111" stroke-width="0.22">MPC2:Day0</text>
<line x1="548.00" y1="615.00" x2="548.00" y2="617.40" stroke="#222" stroke-width="0.6" />
<text transform="translate(551.80,617.80) rotate(-45)" x="0" y="6.14" font-size="8.4" text-anchor="end" fill="#111" stroke="#111" stroke-width="0.22">MPC2:Day7</text>
<line x1="561.27" y1="615.00" x2="561.27" y2="617.40" stroke="#222" stroke-width="0.6" />
<text transform="translate(565.07,617.80) rotate(-45)" x="0" y="6.14" font-size="8.4" text-anchor="end" fill="#111" stroke="#111" stroke-width="0.22">MPC2:Day21</text>
<circle cx="415.30" cy="543.00" r="0.83" fill="#3030FF"/>
<circle cx="428.57" cy="543.00" r="1.56" fill="#0505FF"/>
<circle cx="441.84" cy="543.00" r="1.46" fill="#1010FF"/>
<circle cx="455.11" cy="543.00" r="0.62" fill="#C8C0EC"/>
<circle cx="468.38" cy="543.00" r="0.94" fill="#8078F0"/>
<circle cx="481.65" cy="543.00" r="0.83" fill="#9A92EE"/>
<circle cx="494.92" cy="543.00" r="0.52" fill="#D8D2F0"/>
<circle cx="508.19" cy="543.00" r="0.52" fill="#D8D2F0"/>
<circle cx="521.46" cy="543.00" r="0.52" fill="#DAD5EF"/>
<circle cx="534.73" cy="543.00" r="0.52" fill="#DAD5EF"/>
<circle cx="548.00" cy="543.00" r="0.52" fill="#DAD5EF"/>
<circle cx="561.27" cy="543.00" r="0.52" fill="#DAD5EF"/>
<circle cx="415.30" cy="563.20" r="0.83" fill="#9080E8"/>
<circle cx="428.57" cy="563.20" r="0.62" fill="#B0A8E8"/>
<circle cx="441.84" cy="563.20" r="0.73" fill="#A090E8"/>
<circle cx="455.11" cy="563.20" r="2.70" fill="#0808FF"/>
<circle cx="468.38" cy="563.20" r="0.83" fill="#8878E8"/>
<circle cx="481.65" cy="563.20" r="1.56" fill="#8060E8"/>
<circle cx="494.92" cy="563.20" r="0.83" fill="#9888E8"/>
<circle cx="508.19" cy="563.20" r="0.83" fill="#A898E8"/>
<circle cx="521.46" cy="563.20" r="0.83" fill="#A898E8"/>
<circle cx="534.73" cy="563.20" r="0.83" fill="#A898E8"/>
<circle cx="548.00" cy="563.20" r="0.73" fill="#B0A4E8"/>
<circle cx="561.27" cy="563.20" r="0.73" fill="#B8AEE8"/>
<circle cx="415.30" cy="583.50" r="0.42" fill="#D0D0D8"/>
<circle cx="428.57" cy="583.50" r="0.42" fill="#D0D0D8"/>
<circle cx="441.84" cy="583.50" r="0.42" fill="#D0D0D8"/>
<circle cx="455.11" cy="583.50" r="0.42" fill="#D0D0D8"/>
<circle cx="468.38" cy="583.50" r="0.42" fill="#D0D0D8"/>
<circle cx="481.65" cy="583.50" r="0.42" fill="#D0D0D8"/>
<circle cx="494.92" cy="583.50" r="1.04" fill="#8868E8"/>
<circle cx="508.19" cy="583.50" r="1.77" fill="#9070E0"/>
<circle cx="521.46" cy="583.50" r="1.87" fill="#9070E0"/>
<circle cx="534.73" cy="583.50" r="0.94" fill="#A898E0"/>
<circle cx="548.00" cy="583.50" r="1.56" fill="#A890E0"/>
<circle cx="561.27" cy="583.50" r="1.77" fill="#A890E0"/>
<circle cx="415.30" cy="603.70" r="1.46" fill="#C0B0E8"/>
<circle cx="428.57" cy="603.70" r="0.94" fill="#C8C0E8"/>
<circle cx="441.84" cy="603.70" r="1.14" fill="#C4B8E8"/>
<circle cx="455.11" cy="603.70" r="1.25" fill="#C0B0E8"/>
<circle cx="468.38" cy="603.70" r="0.83" fill="#C8C0E8"/>
<circle cx="481.65" cy="603.70" r="1.25" fill="#C4B8E8"/>
<circle cx="494.92" cy="603.70" r="2.50" fill="#9878E8"/>
<circle cx="508.19" cy="603.70" r="3.43" fill="#9070E8"/>
<circle cx="521.46" cy="603.70" r="3.54" fill="#9070E8"/>
<circle cx="534.73" cy="603.70" r="2.39" fill="#B098E0"/>
<circle cx="548.00" cy="603.70" r="2.50" fill="#C0B0E0"/>
<circle cx="561.27" cy="603.70" r="3.02" fill="#C8B8E0"/>
<text x="596.80" y="543.37" font-size="8.3" text-anchor="start" fill="#111" stroke="#111" stroke-width="0.22" >Percent Expressed</text>
<circle cx="600.30" cy="550.60" r="0.45" fill="#000"/>
<text x="607.10" y="552.97" font-size="8.3" text-anchor="start" fill="#111" stroke="#111" stroke-width="0.22" >0</text>
<circle cx="600.30" cy="557.80" r="1.15" fill="#000"/>
<text x="607.10" y="561.27" font-size="8.3" text-anchor="start" fill="#111" stroke="#111" stroke-width="0.22" >25</text>
<circle cx="600.30" cy="565.90" r="2.05" fill="#000"/>
<text x="607.10" y="569.17" font-size="8.3" text-anchor="start" fill="#111" stroke="#111" stroke-width="0.22" >50</text>
<circle cx="600.30" cy="573.20" r="3.00" fill="#000"/>
<text x="607.10" y="577.57" font-size="8.3" text-anchor="start" fill="#111" stroke="#111" stroke-width="0.22" >75</text>
<text x="596.80" y="589.37" font-size="8.3" text-anchor="start" fill="#111" stroke="#111" stroke-width="0.22" >Average Expression</text>
<rect x="596.80" y="593.10" width="7.00" height="36.80" fill="url(#gE)" />
<text x="607.10" y="600.57" font-size="8.3" text-anchor="start" fill="#111" stroke="#111" stroke-width="0.22" >2</text>
<line x1="596.80" y1="597.60" x2="598.20" y2="597.60" stroke="#FFFFFF" stroke-width="0.5" />
<line x1="602.40" y1="597.60" x2="603.80" y2="597.60" stroke="#FFFFFF" stroke-width="0.5" />
<text x="607.10" y="611.87" font-size="8.3" text-anchor="start" fill="#111" stroke="#111" stroke-width="0.22" >1</text>
<line x1="596.80" y1="608.90" x2="598.20" y2="608.90" stroke="#FFFFFF" stroke-width="0.5" />
<line x1="602.40" y1="608.90" x2="603.80" y2="608.90" stroke="#FFFFFF" stroke-width="0.5" />
<text x="607.10" y="622.77" font-size="8.3" text-anchor="start" fill="#111" stroke="#111" stroke-width="0.22" >0</text>
<line x1="596.80" y1="619.80" x2="598.20" y2="619.80" stroke="#FFFFFF" stroke-width="0.5" />
<line x1="602.40" y1="619.80" x2="603.80" y2="619.80" stroke="#FFFFFF" stroke-width="0.5" />
</svg>
</body></html>
